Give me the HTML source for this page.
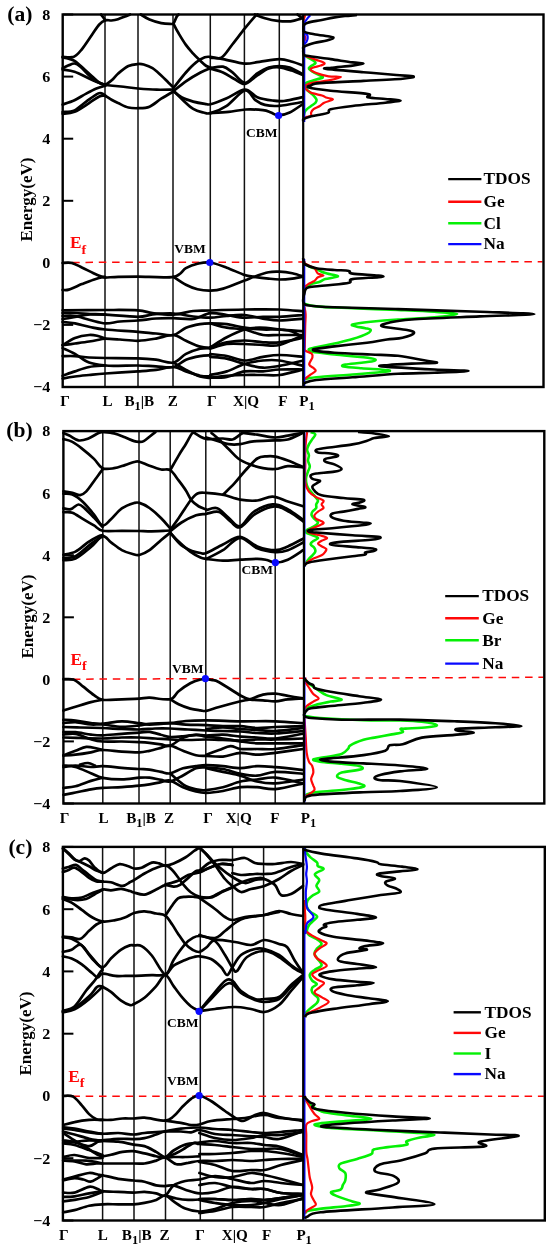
<!DOCTYPE html><html><head><meta charset="utf-8"><style>html,body{margin:0;padding:0;background:#fff;}svg{display:block;}text{font-family:"Liberation Serif","Times New Roman",serif;font-weight:bold;}</style></head><body>
<svg width="550" height="1248" viewBox="0 0 550 1248">
<rect width="550" height="1248" fill="#fff"/>
<g><line x1="105.0" y1="14.5" x2="105.0" y2="387.0" stroke="#111" stroke-width="1.5"/><line x1="138.0" y1="14.5" x2="138.0" y2="387.0" stroke="#111" stroke-width="1.5"/><line x1="173.0" y1="14.5" x2="173.0" y2="387.0" stroke="#111" stroke-width="1.5"/><line x1="210.3" y1="14.5" x2="210.3" y2="387.0" stroke="#111" stroke-width="1.5"/><line x1="244.4" y1="14.5" x2="244.4" y2="387.0" stroke="#111" stroke-width="1.5"/><line x1="279.3" y1="14.5" x2="279.3" y2="387.0" stroke="#111" stroke-width="1.5"/><line x1="72.2" y1="262.4" x2="542.5" y2="261.8" stroke="#ff0808" stroke-width="1.5" stroke-dasharray="7.5 5.8"/><path d="M62.6 56.8 C64.5 56.8 70.6 58.0 73.8 56.8 C77.0 55.5 78.8 53.0 81.8 49.3 C84.8 45.6 89.1 38.8 92.0 34.7 C94.9 30.6 97.1 26.9 99.3 24.5 C101.5 22.1 103.4 21.0 105.4 20.3 C107.4 19.6 109.4 20.7 111.5 20.5 C113.6 20.3 115.8 19.9 118.0 19.2 C120.2 18.5 123.0 17.3 125.0 16.5 C127.0 15.7 129.2 14.8 130.0 14.5" fill="none" stroke="#000" stroke-width="2.7" stroke-linejoin="round" stroke-linecap="round"/><path d="M101.0 14.5 C101.4 15.1 102.8 16.8 103.5 17.8 C104.2 18.8 105.1 19.9 105.4 20.3" fill="none" stroke="#000" stroke-width="2.7" stroke-linejoin="round" stroke-linecap="round"/><path d="M62.6 57.5 C63.6 57.7 66.7 58.1 68.7 58.7 C70.7 59.3 72.1 59.3 74.5 60.9 C76.9 62.5 80.4 65.7 83.3 68.2 C86.2 70.8 89.3 73.8 92.0 76.2 C94.7 78.6 97.1 81.2 99.3 82.7 C101.5 84.2 104.4 84.6 105.4 85.0" fill="none" stroke="#000" stroke-width="2.7" stroke-linejoin="round" stroke-linecap="round"/><path d="M62.6 68.2 C63.6 67.7 66.7 66.1 68.7 65.3 C70.7 64.5 72.5 63.3 74.5 63.5 C76.5 63.7 78.0 64.7 80.4 66.7 C82.8 68.7 86.4 73.1 89.1 75.5 C91.8 77.9 93.7 79.7 96.4 81.3 C99.1 82.9 103.9 84.4 105.4 85.0" fill="none" stroke="#000" stroke-width="2.7" stroke-linejoin="round" stroke-linecap="round"/><path d="M62.6 69.6 C64.6 70.0 70.1 70.3 74.5 71.8 C78.9 73.3 84.6 76.4 89.1 78.4 C93.6 80.4 98.8 82.7 101.5 83.8 C104.2 84.9 104.8 84.8 105.4 85.0" fill="none" stroke="#000" stroke-width="2.7" stroke-linejoin="round" stroke-linecap="round"/><path d="M62.6 104.5 C64.6 103.8 70.6 102.0 74.5 100.2 C78.4 98.4 82.5 95.5 86.2 93.6 C89.9 91.6 93.2 89.8 96.4 88.5 C99.6 87.2 103.9 86.1 105.4 85.6" fill="none" stroke="#000" stroke-width="2.7" stroke-linejoin="round" stroke-linecap="round"/><path d="M62.6 112.0 C64.6 111.7 70.6 112.1 74.5 110.4 C78.4 108.7 82.3 104.4 86.2 101.6 C90.1 98.8 95.1 94.9 97.8 93.6 C100.5 92.3 100.9 93.2 102.2 93.6 C103.5 94.0 104.9 95.4 105.4 95.8" fill="none" stroke="#000" stroke-width="2.7" stroke-linejoin="round" stroke-linecap="round"/><path d="M62.6 113.8 C64.6 113.5 70.1 113.6 74.5 111.8 C78.9 110.0 85.0 105.7 89.1 103.1 C93.2 100.5 96.6 97.6 99.3 96.4 C102.0 95.2 104.4 95.9 105.4 95.8" fill="none" stroke="#000" stroke-width="2.7" stroke-linejoin="round" stroke-linecap="round"/><path d="M105.4 85.0 C108.0 85.2 115.6 85.9 121.0 86.5 C126.4 87.1 132.0 88.0 138.0 88.5 C144.0 89.0 150.9 89.5 156.8 89.7 C162.7 89.9 170.7 89.5 173.5 89.5" fill="none" stroke="#000" stroke-width="2.7" stroke-linejoin="round" stroke-linecap="round"/><path d="M105.4 85.0 C106.5 84.2 109.9 81.9 112.0 80.0 C114.1 78.1 115.5 75.8 118.2 73.5 C120.9 71.2 125.1 67.6 128.4 66.0 C131.7 64.4 135.4 64.2 138.0 64.0 C140.6 63.8 141.3 63.8 143.7 64.5 C146.1 65.2 149.6 66.4 152.5 68.2 C155.4 70.0 158.5 73.1 161.2 75.5 C163.9 77.9 166.4 80.7 168.5 82.7 C170.6 84.7 172.7 86.7 173.5 87.5" fill="none" stroke="#000" stroke-width="2.7" stroke-linejoin="round" stroke-linecap="round"/><path d="M105.4 95.8 C106.5 96.5 109.9 98.8 112.0 100.0 C114.1 101.2 115.5 101.8 118.2 103.1 C120.9 104.3 125.1 106.7 128.4 107.5 C131.7 108.3 134.5 108.3 138.0 108.2 C141.5 108.1 145.6 108.3 149.5 106.7 C153.4 105.1 157.2 101.2 161.2 98.7 C165.2 96.2 171.4 92.7 173.5 91.5" fill="none" stroke="#000" stroke-width="2.7" stroke-linejoin="round" stroke-linecap="round"/><path d="M140.8 14.5 C142.2 15.3 146.1 18.1 149.5 19.5 C152.9 20.9 157.8 22.4 161.2 23.1 C164.6 23.8 167.8 23.8 169.9 23.8 C172.0 23.9 172.4 24.5 173.5 23.4 C174.6 22.3 175.7 18.5 176.5 17.0 C177.3 15.5 178.2 14.9 178.6 14.5" fill="none" stroke="#000" stroke-width="2.7" stroke-linejoin="round" stroke-linecap="round"/><path d="M173.5 23.8 C174.3 25.4 176.5 29.8 178.6 33.3 C180.7 36.8 183.5 41.5 185.9 44.9 C188.3 48.3 190.8 50.9 193.2 53.6 C195.6 56.3 198.3 58.8 200.5 60.9 C202.7 63.0 204.6 64.9 206.3 66.0 C208.0 67.1 209.9 67.2 210.6 67.5" fill="none" stroke="#000" stroke-width="2.7" stroke-linejoin="round" stroke-linecap="round"/><path d="M173.5 88.0 C175.6 85.4 182.1 76.8 185.9 72.5 C189.7 68.2 192.9 64.9 196.1 62.4 C199.2 59.9 202.4 58.2 204.8 57.3 C207.2 56.4 207.7 56.8 210.5 56.8 C213.3 56.8 217.8 59.6 221.4 57.6 C225.0 55.6 228.4 49.4 232.3 44.5 C236.2 39.6 241.4 32.7 245.0 28.2 C248.6 23.7 252.0 19.6 254.1 17.3 C256.2 15.0 257.1 15.0 257.7 14.5" fill="none" stroke="#000" stroke-width="2.7" stroke-linejoin="round" stroke-linecap="round"/><path d="M173.5 91.0 C175.6 89.4 181.4 84.4 185.9 81.3 C190.4 78.2 196.4 74.7 200.5 72.5 C204.6 70.3 208.9 68.9 210.6 68.2" fill="none" stroke="#000" stroke-width="2.7" stroke-linejoin="round" stroke-linecap="round"/><path d="M173.5 91.0 C174.8 92.0 178.2 95.5 181.5 97.3 C184.8 99.1 189.3 100.5 193.2 101.6 C197.1 102.7 201.9 103.4 204.8 103.8 C207.7 104.2 206.8 105.1 210.5 104.2 C214.2 103.3 221.0 100.6 226.7 98.2 C232.4 95.8 239.8 89.8 244.9 89.6 C250.0 89.4 252.7 95.4 257.3 97.2 C261.9 99.0 268.1 99.9 272.5 100.5 C276.9 101.1 278.9 101.5 284.0 101.0 C289.1 100.5 299.9 97.8 303.1 97.2" fill="none" stroke="#000" stroke-width="2.7" stroke-linejoin="round" stroke-linecap="round"/><path d="M173.5 91.0 C175.1 92.5 179.7 97.2 183.0 100.2 C186.3 103.2 189.8 106.9 193.2 108.9 C196.6 111.0 200.5 111.8 203.4 112.5 C206.3 113.2 206.6 114.2 210.5 113.1 C214.4 112.0 221.0 109.6 226.7 105.8 C232.4 102.0 240.1 91.5 244.9 90.5 C249.7 89.5 252.1 97.7 255.4 100.1 C258.7 102.5 260.9 104.0 264.9 104.9 C268.9 105.9 272.8 106.3 279.2 105.8 C285.6 105.3 299.1 102.6 303.1 102.0" fill="none" stroke="#000" stroke-width="2.7" stroke-linejoin="round" stroke-linecap="round"/><path d="M210.5 113.1 C213.5 112.9 222.7 112.4 228.6 111.8 C234.5 111.2 240.1 109.8 245.8 109.5 C251.5 109.2 258.8 109.7 263.0 110.2 C267.2 110.7 268.4 111.6 271.0 112.5 C273.6 113.4 275.2 115.4 278.3 115.4 C281.4 115.4 285.6 114.4 289.7 112.5 C293.8 110.6 300.9 105.3 303.1 103.9" fill="none" stroke="#000" stroke-width="2.7" stroke-linejoin="round" stroke-linecap="round"/><path d="M255.0 14.5 C256.7 15.1 261.2 17.1 265.0 18.2 C268.8 19.3 273.4 20.4 277.7 20.9 C281.9 21.4 286.9 21.6 290.5 21.3 C294.1 21.0 297.4 19.8 299.5 19.1 C301.6 18.4 302.6 17.6 303.2 17.3" fill="none" stroke="#000" stroke-width="2.7" stroke-linejoin="round" stroke-linecap="round"/><path d="M297.5 14.5 L303.2 19.0" fill="none" stroke="#000" stroke-width="2.7" stroke-linejoin="round" stroke-linecap="round"/><path d="M210.5 57.6 C212.6 57.9 217.5 58.1 223.2 59.1 C228.9 60.1 238.5 63.2 244.6 63.6 C250.7 64.0 253.7 62.5 259.5 61.8 C265.3 61.0 274.0 59.1 279.5 59.1 C285.0 59.1 288.4 60.7 292.3 61.8 C296.2 62.9 301.4 64.9 303.2 65.5" fill="none" stroke="#000" stroke-width="2.7" stroke-linejoin="round" stroke-linecap="round"/><path d="M210.5 68.2 C212.6 68.0 219.3 66.0 223.0 66.7 C226.7 67.4 228.8 69.7 232.5 72.4 C236.2 75.1 240.8 82.7 244.9 82.9 C249.0 83.1 253.3 76.0 257.3 73.4 C261.3 70.9 265.1 68.8 268.7 67.6 C272.3 66.4 275.7 66.1 279.2 66.1 C282.7 66.1 285.7 66.2 289.7 67.6 C293.7 69.0 300.9 73.2 303.1 74.3" fill="none" stroke="#000" stroke-width="2.7" stroke-linejoin="round" stroke-linecap="round"/><path d="M210.5 68.6 C212.6 69.2 219.0 70.7 223.0 72.4 C227.0 74.1 230.8 77.1 234.4 79.0 C238.1 80.9 241.1 84.5 244.9 83.9 C248.7 83.3 253.3 77.8 257.3 75.3 C261.3 72.8 265.1 69.9 268.7 68.6 C272.3 67.3 275.4 67.0 279.2 67.3 C283.0 67.6 287.6 69.2 291.6 70.5 C295.6 71.8 301.2 74.5 303.1 75.3" fill="none" stroke="#000" stroke-width="2.7" stroke-linejoin="round" stroke-linecap="round"/><path d="M62.6 263.0 C64.1 263.0 68.4 262.3 71.6 263.0 C74.8 263.7 78.1 265.7 81.8 267.4 C85.5 269.1 90.1 271.6 93.5 273.2 C96.9 274.8 100.2 276.1 102.2 276.8 C104.2 277.5 102.7 277.5 105.4 277.5 C108.1 277.5 112.8 276.9 118.2 276.8 C123.6 276.7 128.8 276.6 138.0 276.6 C147.2 276.6 165.5 278.2 173.5 276.8 C181.5 275.4 181.9 270.3 185.9 268.1 C189.9 265.9 193.4 264.6 197.5 263.7 C201.6 262.8 205.4 261.8 210.3 262.5 C215.2 263.2 221.1 265.6 226.8 267.7 C232.5 269.8 240.1 273.5 244.6 275.0 C249.1 276.5 250.1 276.2 254.1 276.8 C258.1 277.4 264.4 278.2 268.6 278.6 C272.8 279.1 275.6 279.5 279.5 279.5 C283.4 279.5 288.4 279.1 292.3 278.6 C296.2 278.1 301.4 276.9 303.2 276.5" fill="none" stroke="#000" stroke-width="2.7" stroke-linejoin="round" stroke-linecap="round"/><path d="M62.6 289.9 C63.6 289.8 65.5 290.6 68.7 289.6 C71.9 288.6 77.7 285.8 81.8 284.1 C85.9 282.5 89.9 280.9 93.5 279.7 C97.1 278.5 101.6 277.3 103.6 276.9 C105.6 276.5 105.1 277.4 105.4 277.5" fill="none" stroke="#000" stroke-width="2.7" stroke-linejoin="round" stroke-linecap="round"/><path d="M173.5 276.8 C175.6 278.1 181.9 282.7 185.9 284.8 C189.9 286.9 193.4 288.2 197.5 289.2 C201.6 290.2 206.0 290.7 210.3 290.6 C214.6 290.5 217.5 290.3 223.2 288.6 C228.9 286.9 239.4 282.5 244.6 280.5 C249.8 278.5 250.1 278.2 254.1 276.8 C258.1 275.4 264.4 273.2 268.6 272.3 C272.8 271.4 275.6 271.6 279.5 271.7 C283.4 271.8 288.4 272.4 292.3 273.2 C296.2 274.0 301.4 275.9 303.2 276.5" fill="none" stroke="#000" stroke-width="2.7" stroke-linejoin="round" stroke-linecap="round"/><path d="M62.6 310.3 C69.7 310.2 92.8 310.0 105.4 310.0 C118.0 310.0 130.2 309.8 138.0 310.3 C145.8 310.8 146.6 312.5 152.5 313.2 C158.4 313.9 166.7 315.0 173.5 314.6 C180.3 314.2 187.1 311.7 193.2 311.0 C199.3 310.3 201.7 310.8 210.3 310.5 C218.9 310.2 233.1 309.7 244.6 309.5 C256.1 309.3 269.7 309.2 279.5 309.5 C289.3 309.8 299.2 311.1 303.2 311.4" fill="none" stroke="#000" stroke-width="2.7" stroke-linejoin="round" stroke-linecap="round"/><path d="M62.6 313.0 C64.7 313.0 70.4 312.8 75.0 313.0 C79.6 313.2 84.9 313.7 90.0 314.0 C95.1 314.3 97.4 314.1 105.4 314.6 C113.4 315.1 130.2 316.8 138.0 316.8 C145.8 316.8 146.6 315.1 152.5 314.5 C158.4 313.9 166.7 313.2 173.5 313.5 C180.3 313.8 187.1 315.8 193.2 316.5 C199.3 317.2 204.7 317.8 210.3 317.7 C215.9 317.6 221.1 316.3 226.8 315.9 C232.5 315.4 238.6 314.6 244.6 315.0 C250.6 315.4 257.2 317.7 263.0 318.6 C268.8 319.5 272.8 320.5 279.5 320.5 C286.2 320.5 299.2 318.9 303.2 318.6" fill="none" stroke="#000" stroke-width="2.7" stroke-linejoin="round" stroke-linecap="round"/><path d="M62.6 316.0 C64.7 316.0 70.4 315.3 75.0 316.0 C79.6 316.7 84.9 318.8 90.0 320.0 C95.1 321.2 100.4 323.1 105.4 323.4 C110.4 323.6 114.6 322.0 120.0 321.5 C125.4 321.0 132.0 321.0 138.0 320.5 C144.0 320.0 150.1 318.9 156.0 318.5 C161.9 318.1 167.3 318.1 173.5 318.2 C179.7 318.3 187.1 319.8 193.2 319.0 C199.3 318.2 204.7 313.9 210.3 313.2 C215.9 312.5 221.1 314.2 226.8 315.0 C232.5 315.8 238.6 317.4 244.6 317.7 C250.6 318.0 257.2 316.9 263.0 316.8 C268.8 316.7 272.8 317.1 279.5 316.8 C286.2 316.5 299.2 315.3 303.2 315.0" fill="none" stroke="#000" stroke-width="2.7" stroke-linejoin="round" stroke-linecap="round"/><path d="M62.6 319.0 C64.7 318.7 70.4 317.8 75.0 317.0 C79.6 316.2 84.9 314.9 90.0 314.5 C95.1 314.1 102.8 314.6 105.4 314.6" fill="none" stroke="#000" stroke-width="2.7" stroke-linejoin="round" stroke-linecap="round"/><path d="M62.6 322.0 C64.7 322.2 70.4 322.6 75.0 323.4 C79.6 324.2 84.9 326.0 90.0 327.0 C95.1 328.0 97.4 328.7 105.4 329.5 C113.4 330.3 129.6 331.1 138.0 331.8 C146.4 332.5 150.1 333.0 156.0 333.5 C161.9 334.0 168.5 336.0 173.5 335.0 C178.5 334.0 181.6 329.5 186.0 327.7 C190.4 325.9 195.9 324.8 200.0 324.1 C204.1 323.4 205.8 323.4 210.3 323.4 C214.8 323.4 221.1 323.4 226.8 324.1 C232.5 324.8 238.6 326.8 244.6 327.7 C250.6 328.6 257.2 329.2 263.0 329.5 C268.8 329.8 272.8 329.2 279.5 329.5 C286.2 329.8 299.2 331.1 303.2 331.4" fill="none" stroke="#000" stroke-width="2.7" stroke-linejoin="round" stroke-linecap="round"/><path d="M210.3 323.4 C213.1 324.1 221.1 326.7 226.8 327.7 C232.5 328.7 238.6 328.3 244.6 329.5 C250.6 330.7 257.2 334.1 263.0 335.0 C268.8 335.9 272.8 335.0 279.5 335.0 C286.2 335.0 299.2 335.0 303.2 335.0" fill="none" stroke="#000" stroke-width="2.7" stroke-linejoin="round" stroke-linecap="round"/><path d="M62.6 345.2 C64.7 344.0 70.6 339.7 75.0 338.0 C79.4 336.3 85.3 335.3 89.1 335.0 C92.9 334.7 95.3 335.4 98.0 336.0 C100.7 336.6 104.2 338.2 105.4 338.6" fill="none" stroke="#000" stroke-width="2.7" stroke-linejoin="round" stroke-linecap="round"/><path d="M62.6 345.2 C64.7 344.9 70.6 344.1 75.0 343.5 C79.4 342.9 84.9 342.2 89.1 341.5 C93.3 340.8 97.3 340.0 100.0 339.5 C102.7 339.0 102.1 338.6 105.4 338.6 C108.7 338.6 114.6 339.1 120.0 339.5 C125.4 339.9 132.0 340.9 138.0 340.8 C144.0 340.7 150.1 339.6 156.0 338.6 C161.9 337.6 168.5 334.6 173.5 335.0 C178.5 335.4 181.6 338.9 186.0 340.8 C190.4 342.7 195.9 345.4 200.0 346.6 C204.1 347.8 208.6 347.9 210.3 348.1" fill="none" stroke="#000" stroke-width="2.7" stroke-linejoin="round" stroke-linecap="round"/><path d="M62.6 348.1 C64.7 349.1 70.6 351.5 75.0 353.9 C79.4 356.3 84.0 360.7 89.1 362.6 C94.2 364.5 100.6 365.0 105.4 365.5 C110.2 366.0 112.8 365.8 118.2 365.8 C123.6 365.8 131.7 365.4 138.0 365.5 C144.3 365.6 150.1 366.1 156.0 366.3 C161.9 366.6 168.5 368.1 173.5 367.0 C178.5 365.9 181.6 361.5 186.0 359.7 C190.4 357.9 195.9 356.8 200.0 356.1 C204.1 355.4 208.6 355.5 210.3 355.4" fill="none" stroke="#000" stroke-width="2.7" stroke-linejoin="round" stroke-linecap="round"/><path d="M62.6 356.1 C64.7 356.1 70.6 355.9 75.0 356.1 C79.4 356.3 84.0 357.2 89.1 357.5 C94.2 357.8 97.2 357.9 105.4 358.0 C113.6 358.1 129.6 358.0 138.0 358.3 C146.4 358.6 150.1 359.0 156.0 359.7 C161.9 360.4 168.5 363.6 173.5 362.6 C178.5 361.6 181.6 356.2 186.0 353.9 C190.4 351.6 195.9 349.8 200.0 348.8 C204.1 347.8 208.6 348.2 210.3 348.1" fill="none" stroke="#000" stroke-width="2.7" stroke-linejoin="round" stroke-linecap="round"/><path d="M62.6 375.7 C64.7 375.0 70.6 372.8 75.0 371.4 C79.4 369.9 84.0 368.0 89.1 367.0 C94.2 366.0 102.7 365.8 105.4 365.5" fill="none" stroke="#000" stroke-width="2.7" stroke-linejoin="round" stroke-linecap="round"/><path d="M62.6 378.6 C64.7 378.2 70.6 377.1 75.0 376.5 C79.4 375.9 84.0 375.5 89.1 375.0 C94.2 374.5 97.2 374.1 105.4 373.5 C113.6 372.9 129.6 372.0 138.0 371.4 C146.4 370.8 150.1 370.6 156.0 369.9 C161.9 369.2 168.5 366.8 173.5 367.0 C178.5 367.2 181.6 369.9 186.0 371.4 C190.4 372.8 195.9 374.8 200.0 375.7 C204.1 376.6 208.6 376.4 210.3 376.5" fill="none" stroke="#000" stroke-width="2.7" stroke-linejoin="round" stroke-linecap="round"/><path d="M173.5 362.6 C175.6 363.8 181.6 367.6 186.0 369.9 C190.4 372.2 195.9 375.2 200.0 376.5 C204.1 377.8 208.6 377.7 210.3 377.9" fill="none" stroke="#000" stroke-width="2.7" stroke-linejoin="round" stroke-linecap="round"/><path d="M210.3 347.3 C213.1 345.6 221.1 340.3 226.8 337.3 C232.5 334.3 239.2 331.1 244.6 329.5 C250.0 327.9 253.7 327.7 259.5 327.7 C265.3 327.7 274.1 328.9 279.5 329.5 C284.9 330.1 288.1 330.0 292.0 331.4 C295.9 332.8 301.3 336.6 303.2 337.7" fill="none" stroke="#000" stroke-width="2.7" stroke-linejoin="round" stroke-linecap="round"/><path d="M210.3 347.3 C213.1 346.5 221.1 343.4 226.8 342.3 C232.5 341.2 238.6 340.5 244.6 340.5 C250.6 340.5 257.2 342.0 263.0 342.3 C268.8 342.6 272.8 343.1 279.5 342.3 C286.2 341.5 299.2 338.5 303.2 337.7" fill="none" stroke="#000" stroke-width="2.7" stroke-linejoin="round" stroke-linecap="round"/><path d="M210.3 348.6 C213.1 347.8 221.1 344.8 226.8 344.0 C232.5 343.2 238.6 343.8 244.6 344.0 C250.6 344.2 257.2 344.8 263.0 345.0 C268.8 345.2 272.8 346.7 279.5 345.0 C286.2 343.3 299.2 336.7 303.2 335.0" fill="none" stroke="#000" stroke-width="2.7" stroke-linejoin="round" stroke-linecap="round"/><path d="M210.3 354.0 C213.1 354.3 221.1 354.9 226.8 356.0 C232.5 357.1 238.6 360.4 244.6 360.5 C250.6 360.6 257.2 357.7 263.0 356.8 C268.8 355.9 272.8 355.0 279.5 355.0 C286.2 355.0 299.2 356.5 303.2 356.8" fill="none" stroke="#000" stroke-width="2.7" stroke-linejoin="round" stroke-linecap="round"/><path d="M210.3 356.8 C213.1 357.1 221.1 357.4 226.8 358.6 C232.5 359.8 238.6 362.5 244.6 364.0 C250.6 365.5 257.2 367.4 263.0 367.7 C268.8 368.0 272.8 367.1 279.5 365.9 C286.2 364.7 299.2 361.4 303.2 360.5" fill="none" stroke="#000" stroke-width="2.7" stroke-linejoin="round" stroke-linecap="round"/><path d="M210.3 375.0 C213.1 374.4 221.1 373.2 226.8 371.4 C232.5 369.6 238.6 365.8 244.6 364.0 C250.6 362.2 257.2 361.1 263.0 360.5 C268.8 359.9 272.8 359.6 279.5 360.5 C286.2 361.4 299.2 365.0 303.2 365.9" fill="none" stroke="#000" stroke-width="2.7" stroke-linejoin="round" stroke-linecap="round"/><path d="M210.3 377.7 C213.1 377.6 221.1 377.9 226.8 376.8 C232.5 375.8 238.6 372.3 244.6 371.4 C250.6 370.5 257.2 371.7 263.0 371.4 C268.8 371.1 272.8 369.8 279.5 369.5 C286.2 369.2 299.2 369.5 303.2 369.5" fill="none" stroke="#000" stroke-width="2.7" stroke-linejoin="round" stroke-linecap="round"/><path d="M210.3 377.7 C213.1 377.4 221.1 376.3 226.8 375.9 C232.5 375.4 238.6 375.1 244.6 375.0 C250.6 374.9 257.2 375.0 263.0 375.0 C268.8 375.0 272.8 375.9 279.5 375.0 C286.2 374.1 299.2 370.4 303.2 369.5" fill="none" stroke="#000" stroke-width="2.7" stroke-linejoin="round" stroke-linecap="round"/><path d="M303.2 55.0 C303.5 55.1 303.4 55.0 304.9 55.8 C306.4 56.6 310.5 58.7 312.3 59.9 C314.1 61.1 315.8 62.1 315.5 63.2 C315.2 64.3 311.7 65.5 310.6 66.5 C309.5 67.5 308.3 67.8 309.0 68.9 C309.7 70.0 312.4 71.6 314.7 73.0 C317.0 74.4 322.6 76.0 322.9 77.1 C323.2 78.2 319.1 78.5 316.4 79.5 C313.7 80.5 308.4 82.0 306.5 82.8 C304.6 83.6 304.9 83.4 304.9 84.5 C304.9 85.6 305.3 87.8 306.5 89.4 C307.7 91.0 310.6 92.6 312.3 94.3 C314.0 96.0 316.0 98.1 316.5 99.5 C317.0 100.9 316.4 101.6 315.5 102.7 C314.6 103.8 312.6 104.9 311.1 106.0 C309.6 107.1 307.8 108.2 306.7 109.3 C305.6 110.4 305.0 111.3 304.5 112.6 C304.0 113.9 303.7 116.2 303.5 116.9" fill="none" stroke="#05f005" stroke-width="2.6" stroke-linejoin="round"/><path d="M303.5 262.7 C304.4 263.3 306.8 265.3 308.9 266.4 C311.0 267.5 314.1 268.2 316.2 269.1 C318.3 270.0 319.8 271.1 321.6 271.8 C323.4 272.6 324.4 272.8 327.1 273.6 C329.8 274.4 338.3 275.5 338.0 276.4 C337.7 277.3 328.3 278.2 325.3 279.1 C322.3 280.0 321.9 281.1 319.8 281.8 C317.7 282.6 314.6 282.8 312.5 283.6 C310.4 284.4 308.5 285.6 307.1 286.4 C305.8 287.2 304.8 287.9 304.4 288.2" fill="none" stroke="#05f005" stroke-width="2.6" stroke-linejoin="round"/><path d="M303.5 303.5 C305.6 304.0 308.0 305.6 316.2 306.4 C324.4 307.2 338.9 307.6 352.5 308.2 C366.1 308.8 384.4 309.4 398.0 310.0 C411.6 310.6 424.5 311.1 434.4 311.8 C444.2 312.5 457.1 313.2 457.1 314.1 C457.1 315.0 444.2 316.4 434.4 317.3 C424.5 318.2 408.6 318.8 398.0 319.5 C387.4 320.2 378.3 321.0 370.7 321.8 C363.1 322.6 354.9 323.7 352.5 324.5 C350.1 325.3 354.1 325.8 356.2 326.4 C358.3 327.0 362.9 327.6 365.3 328.2 C367.7 328.8 370.4 329.1 370.7 330.0 C371.0 330.9 370.1 332.1 367.1 333.6 C364.1 335.1 357.9 337.4 352.5 339.1 C347.1 340.8 340.4 342.2 334.4 343.6 C328.3 345.0 320.4 346.4 316.2 347.3 C311.9 348.2 309.5 348.4 308.9 349.1 C308.3 349.9 308.2 350.9 312.5 351.8 C316.8 352.7 324.7 353.4 334.4 354.5 C344.1 355.6 364.0 357.1 370.7 358.2 C377.4 359.3 375.9 360.1 374.4 360.9 C372.9 361.6 366.5 362.1 361.6 362.7 C356.8 363.3 348.3 363.9 345.3 364.5 C342.3 365.1 340.8 365.8 343.5 366.4 C346.2 367.0 354.3 367.6 361.6 368.2 C368.9 368.8 383.2 369.4 387.1 370.0 C391.1 370.6 391.1 371.1 385.3 371.8 C379.5 372.6 364.0 373.6 352.5 374.5 C341.0 375.4 324.1 376.5 316.2 377.3 C308.3 378.1 307.4 378.5 305.3 379.1 C303.2 379.7 303.8 380.6 303.5 380.9" fill="none" stroke="#05f005" stroke-width="2.6" stroke-linejoin="round"/><path d="M303.2 54.7 C303.5 54.9 302.7 54.9 304.9 55.8 C307.1 56.7 313.1 58.7 316.4 59.9 C319.7 61.1 323.8 62.2 324.5 63.2 C325.2 64.2 322.8 64.6 320.5 65.6 C318.2 66.5 311.3 67.7 310.6 68.9 C309.9 70.1 313.4 71.8 316.4 73.0 C319.4 74.2 324.5 75.6 328.6 76.3 C332.7 77.0 340.9 76.4 340.9 77.1 C340.9 77.8 333.4 79.5 328.6 80.4 C323.8 81.4 316.1 82.0 312.3 82.8 C308.5 83.6 306.9 84.5 305.7 85.3 C304.5 86.1 304.1 86.5 304.9 87.7 C305.7 88.9 307.8 91.3 310.6 92.6 C313.5 93.9 319.4 94.7 322.0 95.5 C324.6 96.3 324.2 96.8 326.0 97.5 C327.8 98.2 333.2 98.6 332.9 99.5 C332.6 100.4 326.4 101.6 324.2 102.7 C322.0 103.8 321.6 104.9 319.8 106.0 C318.0 107.1 314.8 108.2 313.3 109.3 C311.9 110.4 311.5 111.5 311.1 112.6 C310.7 113.7 311.8 115.1 311.1 115.8 C310.4 116.5 308.0 116.5 306.7 116.9 C305.4 117.3 303.8 117.8 303.2 118.0" fill="none" stroke="#ff0808" stroke-width="2.2" stroke-linejoin="round"/><path d="M303.3 34.2 C303.6 34.6 304.9 35.9 305.2 36.7 C305.5 37.6 305.5 38.4 305.2 39.3 C304.9 40.1 303.6 41.4 303.3 41.8" fill="none" stroke="#ff0808" stroke-width="2.2" stroke-linejoin="round"/><path d="M303.3 22.7 C303.4 22.1 303.6 20.1 303.9 18.9 C304.2 17.6 305.0 15.8 305.2 15.2" fill="none" stroke="#ff0808" stroke-width="2.2" stroke-linejoin="round"/><path d="M303.5 262.7 C304.4 263.2 307.1 264.6 308.9 265.5 C310.7 266.4 313.2 267.3 314.4 268.2 C315.6 269.1 315.6 270.0 316.2 270.9 C316.8 271.8 316.8 272.8 318.0 273.6 C319.2 274.4 323.5 274.9 323.5 275.5 C323.5 276.1 319.5 276.4 318.0 277.3 C316.5 278.2 315.9 279.8 314.4 280.9 C312.9 281.9 310.4 282.7 308.9 283.6 C307.4 284.5 306.1 285.6 305.3 286.4 C304.6 287.2 304.5 287.9 304.4 288.2" fill="none" stroke="#ff0808" stroke-width="2.2" stroke-linejoin="round"/><path d="M303.8 304.0 C304.1 305.7 305.4 310.3 305.6 314.0 C305.8 317.7 305.3 320.7 305.2 326.0 C305.1 331.3 304.8 341.9 304.8 346.0 C304.8 350.1 304.1 349.2 305.2 350.5 C306.3 351.8 310.4 352.3 311.6 353.5 C312.8 354.7 312.8 355.7 312.4 357.5 C312.0 359.3 308.9 362.7 309.2 364.5 C309.5 366.3 312.9 367.4 314.0 368.5 C315.1 369.6 316.3 369.9 315.6 371.0 C314.9 372.1 311.8 373.7 310.0 375.0 C308.2 376.3 305.8 378.0 304.8 379.0 C303.8 380.0 304.0 380.7 303.8 381.0" fill="none" stroke="#ff0808" stroke-width="2.2" stroke-linejoin="round"/><path d="M304.2 122.0 L304.2 25.0" fill="none" stroke="#0808ff" stroke-width="2.2" stroke-linejoin="round"/><path d="M304.2 386.0 L304.2 259.0" fill="none" stroke="#0808ff" stroke-width="2.2" stroke-linejoin="round"/><path d="M303.3 25.3 C303.5 24.9 303.9 23.8 304.5 22.7 C305.1 21.6 306.1 20.1 307.1 18.9 C308.1 17.6 309.8 15.8 310.3 15.2" fill="none" stroke="#0808ff" stroke-width="2.2" stroke-linejoin="round"/><path d="M303.3 32.3 C303.9 32.7 306.4 33.8 307.1 34.8 C307.8 35.8 307.8 36.8 307.7 38.0 C307.6 39.2 307.2 40.6 306.5 41.8 C305.8 43.0 303.8 44.5 303.3 45.0" fill="none" stroke="#0808ff" stroke-width="2.2" stroke-linejoin="round"/><path d="M357.0 15.0 C355.0 15.2 349.0 15.6 345.0 16.0 C341.0 16.4 337.3 16.9 333.2 17.6 C329.1 18.3 324.8 19.4 320.5 20.2 C316.2 21.0 310.5 21.8 307.7 22.7 C304.9 23.6 304.6 24.3 303.9 25.3 C303.2 26.3 303.3 27.4 303.4 28.5 C303.5 29.6 302.7 30.9 304.5 31.8 C306.3 32.8 309.8 33.4 314.1 34.2 C318.5 35.0 327.4 36.1 330.6 36.7 C333.8 37.3 333.8 37.4 333.2 38.0 C332.6 38.6 330.0 39.6 326.8 40.5 C323.6 41.4 317.9 42.0 314.1 43.1 C310.3 44.2 305.7 45.8 303.9 46.9 C302.1 48.0 303.4 48.4 303.3 49.5 C303.2 50.6 302.9 52.6 303.5 53.6 C304.1 54.6 302.2 54.9 306.7 55.8 C311.2 56.7 323.1 58.0 330.7 59.1 C338.3 60.2 347.0 61.7 352.5 62.4 C358.0 63.1 363.5 63.0 363.5 63.5 C363.5 64.0 358.0 64.9 352.5 65.6 C347.0 66.3 335.1 67.2 330.7 67.8 C326.3 68.3 320.9 68.2 326.4 68.9 C331.9 69.6 351.9 71.2 363.5 72.2 C375.1 73.2 387.8 74.3 396.2 75.0 C404.6 75.7 412.5 75.9 413.6 76.5 C414.7 77.1 411.1 78.0 402.7 78.7 C394.3 79.4 377.3 80.2 363.5 80.9 C349.7 81.6 328.5 82.4 319.8 83.1 C311.1 83.8 312.9 84.6 311.1 85.3 C309.3 86.0 305.6 86.6 308.9 87.5 C312.2 88.4 320.9 89.6 330.7 90.7 C340.5 91.8 361.6 92.9 367.8 94.0 C374.0 95.1 364.9 96.5 367.8 97.3 C370.7 98.1 379.8 98.5 385.3 99.0 C390.8 99.5 400.6 100.0 400.6 100.6 C400.6 101.2 393.3 101.8 385.3 102.7 C377.3 103.6 361.6 104.9 352.5 106.0 C343.4 107.1 334.7 108.2 330.7 109.3 C326.7 110.4 330.3 111.7 328.5 112.6 C326.7 113.5 323.1 114.0 319.8 114.7 C316.5 115.4 311.6 116.2 308.9 116.9 C306.2 117.6 304.4 118.4 303.5 119.1 C302.6 119.8 303.2 120.9 303.2 121.3" fill="none" stroke="#000" stroke-width="2.6" stroke-linejoin="round"/><path d="M303.2 258.0 C303.2 258.5 303.1 259.8 303.5 260.9 C303.9 262.0 303.2 263.3 305.3 264.5 C307.4 265.7 311.4 267.3 316.2 268.2 C321.0 269.1 328.9 269.6 334.4 270.0 C339.8 270.4 345.9 270.3 348.9 270.9 C351.9 271.5 346.7 272.7 352.5 273.6 C358.3 274.5 383.5 275.5 383.5 276.4 C383.5 277.3 358.3 278.1 352.5 279.1 C346.7 280.2 353.4 281.6 348.9 282.7 C344.4 283.8 332.0 284.7 325.3 285.5 C318.6 286.3 312.2 286.6 308.9 287.3 C305.6 288.1 306.1 288.9 305.3 290.0 C304.6 291.1 304.7 292.4 304.4 293.6 C304.1 294.8 303.6 295.8 303.5 297.3 C303.4 298.8 302.6 301.3 303.5 302.7 C304.4 304.1 303.9 304.7 309.0 305.5 C314.1 306.3 319.6 306.7 334.4 307.3 C349.2 307.9 373.8 308.4 398.0 309.1 C422.2 309.9 457.1 311.0 479.8 311.8 C502.5 312.6 534.4 313.3 534.4 314.1 C534.4 314.9 500.3 315.5 479.8 316.4 C459.3 317.3 426.8 318.4 411.6 319.5 C396.5 320.6 393.8 321.6 388.9 322.7 C384.0 323.8 379.1 325.2 382.1 326.4 C385.1 327.6 401.8 328.9 407.1 330.0 C412.4 331.1 414.7 331.9 413.9 333.2 C413.1 334.5 407.0 336.6 402.5 337.7 C398.0 338.8 392.9 338.7 387.0 339.5 C381.1 340.3 375.8 341.6 367.0 342.7 C358.2 343.8 343.2 345.3 334.4 346.4 C325.6 347.5 317.4 348.4 314.4 349.1 C311.4 349.9 312.9 350.3 316.2 350.9 C319.5 351.5 325.3 352.1 334.4 352.7 C343.5 353.3 360.1 354.0 370.7 354.5 C381.3 355.0 388.9 354.8 398.0 355.8 C407.1 356.8 418.9 359.4 425.3 360.5 C431.7 361.6 438.9 362.2 436.6 362.7 C434.3 363.2 419.6 363.2 411.6 363.6 C403.7 364.0 393.8 364.5 388.9 365.0 C384.0 365.5 374.5 365.6 382.1 366.4 C389.7 367.1 420.0 368.8 434.4 369.5 C448.8 370.2 468.5 370.4 468.5 370.9 C468.5 371.4 446.1 372.2 434.4 372.7 C422.6 373.2 411.6 373.0 398.0 373.8 C384.4 374.6 366.1 376.3 352.5 377.3 C338.9 378.3 324.1 379.1 316.2 380.0 C308.3 380.9 307.4 381.9 305.3 382.7 C303.2 383.4 303.8 384.2 303.5 384.5" fill="none" stroke="#000" stroke-width="2.6" stroke-linejoin="round"/><line x1="62.7" y1="387.0" x2="73.2" y2="387.0" stroke="#000" stroke-width="2"/><text transform="translate(50.4 392.3) scale(1.040 1)" font-size="15.5" text-anchor="end">−4</text><line x1="62.7" y1="324.9" x2="73.2" y2="324.9" stroke="#000" stroke-width="2"/><text transform="translate(50.4 330.2) scale(1.040 1)" font-size="15.5" text-anchor="end">−2</text><line x1="62.7" y1="262.8" x2="73.2" y2="262.8" stroke="#000" stroke-width="2"/><text transform="translate(50.4 268.1) scale(1.040 1)" font-size="15.5" text-anchor="end">0</text><line x1="62.7" y1="200.8" x2="73.2" y2="200.8" stroke="#000" stroke-width="2"/><text transform="translate(50.4 206.1) scale(1.040 1)" font-size="15.5" text-anchor="end">2</text><line x1="62.7" y1="138.7" x2="73.2" y2="138.7" stroke="#000" stroke-width="2"/><text transform="translate(50.4 144.0) scale(1.040 1)" font-size="15.5" text-anchor="end">4</text><line x1="62.7" y1="76.6" x2="73.2" y2="76.6" stroke="#000" stroke-width="2"/><text transform="translate(50.4 81.9) scale(1.040 1)" font-size="15.5" text-anchor="end">6</text><line x1="62.7" y1="14.5" x2="73.2" y2="14.5" stroke="#000" stroke-width="2"/><text transform="translate(50.4 19.8) scale(1.040 1)" font-size="15.5" text-anchor="end">8</text><rect x="62.7" y="14.5" width="480.8" height="372.5" fill="none" stroke="#000" stroke-width="2.4"/><line x1="303.2" y1="14.5" x2="303.2" y2="387.0" stroke="#000" stroke-width="2.2"/><text transform="translate(7.2 21.3) scale(1.080 1)" font-size="20">(a)</text><text x="0" y="0" font-size="17" text-anchor="middle" transform="translate(32.0 199.5) scale(0.93 1) rotate(-90)">Energy(eV)</text><text transform="translate(65.1 406.2) scale(1.080 1)" font-size="14" text-anchor="middle">Γ</text><text transform="translate(107.6 406.2) scale(1.080 1)" font-size="14" text-anchor="middle">L</text><text transform="translate(139.3 406.2) scale(1.080 1)" font-size="14" text-anchor="middle">B<tspan font-size="11.5" dy="4">1</tspan><tspan dy="-4">|B</tspan></text><text transform="translate(172.7 406.2) scale(1.080 1)" font-size="14" text-anchor="middle">Z</text><text transform="translate(211.9 406.2) scale(1.080 1)" font-size="14" text-anchor="middle">Γ</text><text transform="translate(246.0 406.2) scale(1.080 1)" font-size="14" text-anchor="middle">X|Q</text><text transform="translate(282.8 406.2) scale(1.080 1)" font-size="14" text-anchor="middle">F</text><text transform="translate(307.0 406.2) scale(1.080 1)" font-size="14" text-anchor="middle">P<tspan font-size="11.5" dy="4">1</tspan></text><text transform="translate(70.0 248.1) scale(1.080 1)" font-size="16" fill="#ff0808">E<tspan font-size="13" dy="5.5">f</tspan></text><line x1="448.2" y1="179.1" x2="481.4" y2="179.1" stroke="#000" stroke-width="2.4"/><text transform="translate(483.6 184.4) scale(1.080 1)" font-size="16">TDOS</text><line x1="448.2" y1="201.8" x2="481.4" y2="201.8" stroke="#ff0808" stroke-width="2.4"/><text transform="translate(483.6 207.1) scale(1.080 1)" font-size="16">Ge</text><line x1="448.2" y1="223.2" x2="481.4" y2="223.2" stroke="#05f005" stroke-width="2.4"/><text transform="translate(483.6 228.5) scale(1.080 1)" font-size="16">Cl</text><line x1="448.2" y1="244.1" x2="481.4" y2="244.1" stroke="#0808ff" stroke-width="2.4"/><text transform="translate(483.6 249.4) scale(1.080 1)" font-size="16">Na</text><circle cx="209.8" cy="262.5" r="3.6" fill="#0a0aff"/><text transform="translate(174.2 253.3) scale(1.000 1)" font-size="13.5">VBM</text><circle cx="278.6" cy="115.5" r="3.6" fill="#0a0aff"/><text transform="translate(246.0 136.8) scale(1.000 1)" font-size="13.5">CBM</text></g>
<g><line x1="102.8" y1="431.1" x2="102.8" y2="803.5" stroke="#111" stroke-width="1.5"/><line x1="139.0" y1="431.1" x2="139.0" y2="803.5" stroke="#111" stroke-width="1.5"/><line x1="170.2" y1="431.1" x2="170.2" y2="803.5" stroke="#111" stroke-width="1.5"/><line x1="205.8" y1="431.1" x2="205.8" y2="803.5" stroke="#111" stroke-width="1.5"/><line x1="240.0" y1="431.1" x2="240.0" y2="803.5" stroke="#111" stroke-width="1.5"/><line x1="275.2" y1="431.1" x2="275.2" y2="803.5" stroke="#111" stroke-width="1.5"/><line x1="72.9" y1="679.2" x2="543.3" y2="677.3" stroke="#ff0808" stroke-width="1.5" stroke-dasharray="7.5 5.8"/><path d="M63.4 433.0 C64.4 433.4 66.8 434.3 69.3 435.5 C71.8 436.7 75.4 439.8 78.5 440.4 C81.6 440.9 84.5 440.0 87.8 438.8 C91.1 437.6 96.1 434.1 98.6 433.0 C101.0 431.9 101.8 432.2 102.5 432.0" fill="none" stroke="#000" stroke-width="2.7" stroke-linejoin="round" stroke-linecap="round"/><path d="M63.4 439.1 C64.9 439.6 69.1 440.1 72.4 441.9 C75.7 443.6 79.6 446.8 83.2 449.6 C86.8 452.4 90.8 455.8 94.0 458.9 C97.2 462.0 99.2 466.6 102.5 468.2 C105.8 469.8 110.4 468.7 114.1 468.2 C117.8 467.7 121.6 466.1 124.9 465.1 C128.2 464.1 131.8 462.6 134.2 462.0 C136.6 461.4 136.8 461.1 139.4 461.7 C142.0 462.3 145.9 464.5 149.5 465.8 C153.1 467.1 157.8 468.8 161.2 469.5 C164.6 470.2 167.3 468.4 170.2 470.2 C173.1 472.0 176.0 477.0 178.6 480.4 C181.2 483.8 183.7 487.1 185.9 490.5 C188.1 493.9 189.5 498.0 191.7 500.7 C193.9 503.4 196.6 505.0 199.0 506.5 C201.4 508.0 205.1 509.0 206.3 509.5" fill="none" stroke="#000" stroke-width="2.7" stroke-linejoin="round" stroke-linecap="round"/><path d="M63.4 491.4 C64.9 491.6 69.6 492.3 72.4 492.9 C75.2 493.5 77.8 495.4 80.1 495.2 C82.4 494.9 83.7 494.1 86.3 491.4 C88.9 488.7 92.8 482.6 95.5 479.0 C98.2 475.4 101.3 471.2 102.5 469.7" fill="none" stroke="#000" stroke-width="2.7" stroke-linejoin="round" stroke-linecap="round"/><path d="M63.4 493.7 C64.9 493.8 69.1 493.1 72.4 494.5 C75.7 495.9 79.6 498.8 83.2 502.2 C86.8 505.6 90.8 510.7 94.0 514.6 C97.2 518.5 99.7 524.6 102.5 525.4 C105.3 526.2 107.8 522.0 111.0 519.2 C114.2 516.4 117.9 511.1 121.8 508.4 C125.7 505.7 131.3 503.9 134.2 503.0 C137.1 502.1 136.8 502.1 139.4 502.9 C142.0 503.7 145.9 505.4 149.5 508.0 C153.1 510.6 157.8 514.8 161.2 518.2 C164.6 521.6 168.7 526.7 170.2 528.4" fill="none" stroke="#000" stroke-width="2.7" stroke-linejoin="round" stroke-linecap="round"/><path d="M63.4 508.4 C64.6 508.5 68.3 509.8 70.8 509.1 C73.3 508.5 76.2 504.6 78.5 504.5 C80.8 504.4 82.1 506.2 84.7 508.4 C87.3 510.6 91.0 514.5 94.0 517.6 C97.0 520.7 101.1 525.4 102.5 526.9" fill="none" stroke="#000" stroke-width="2.7" stroke-linejoin="round" stroke-linecap="round"/><path d="M63.4 512.2 C64.9 512.3 69.1 511.5 72.4 512.7 C75.7 513.9 79.6 517.1 83.2 519.2 C86.8 521.3 90.8 523.5 94.0 525.4 C97.2 527.3 97.9 529.9 102.5 530.8 C107.1 531.7 115.6 530.8 121.8 530.8 C128.0 530.8 134.8 530.9 139.4 531.0 C144.0 531.1 144.4 531.4 149.5 531.3 C154.6 531.2 166.8 530.6 170.2 530.5" fill="none" stroke="#000" stroke-width="2.7" stroke-linejoin="round" stroke-linecap="round"/><path d="M63.4 554.7 C65.4 554.2 71.4 553.7 75.5 551.6 C79.6 549.5 84.0 545.0 87.8 542.4 C91.6 539.8 96.1 537.4 98.6 536.2 C101.0 535.0 101.8 535.5 102.5 535.4" fill="none" stroke="#000" stroke-width="2.7" stroke-linejoin="round" stroke-linecap="round"/><path d="M63.4 557.8 C65.4 557.5 70.9 558.6 75.5 556.3 C80.1 554.0 86.8 547.0 90.9 543.9 C95.0 540.8 98.3 539.0 100.2 537.7 C102.1 536.4 102.1 536.5 102.5 536.2" fill="none" stroke="#000" stroke-width="2.7" stroke-linejoin="round" stroke-linecap="round"/><path d="M63.4 560.2 C65.4 559.9 70.9 560.8 75.5 558.6 C80.1 556.4 86.4 550.7 90.9 547.0 C95.4 543.3 99.2 537.0 102.5 536.2 C105.8 535.4 107.8 540.1 111.0 542.4 C114.2 544.7 118.2 548.2 121.8 550.1 C125.4 552.0 129.7 553.2 132.6 554.0 C135.5 554.8 136.6 555.6 139.4 555.0 C142.2 554.4 145.9 552.7 149.5 550.2 C153.1 547.7 157.8 542.9 161.2 540.0 C164.6 537.1 168.7 533.9 170.2 532.7" fill="none" stroke="#000" stroke-width="2.7" stroke-linejoin="round" stroke-linecap="round"/><path d="M102.5 432.0 C104.4 432.2 110.4 432.5 114.1 433.4 C117.8 434.3 121.6 436.0 124.9 437.3 C128.2 438.6 131.8 440.4 134.2 441.1 C136.6 441.9 137.8 441.8 139.4 441.8 C141.0 441.8 142.0 442.0 143.7 441.1 C145.4 440.2 147.6 438.2 149.5 436.7 C151.4 435.2 154.4 432.9 155.4 432.2" fill="none" stroke="#000" stroke-width="2.7" stroke-linejoin="round" stroke-linecap="round"/><path d="M170.2 470.2 C171.6 467.8 176.0 460.0 178.6 455.6 C181.2 451.2 183.7 447.6 185.9 444.0 C188.1 440.4 190.2 435.8 191.7 433.8 C193.1 431.8 194.1 432.5 194.6 432.2" fill="none" stroke="#000" stroke-width="2.7" stroke-linejoin="round" stroke-linecap="round"/><path d="M193.2 432.2 C194.4 432.9 198.3 435.6 200.5 436.7 C202.7 437.8 204.5 438.5 206.3 438.9 C208.1 439.3 208.7 439.1 211.5 439.0 C214.3 438.9 219.4 438.4 222.9 438.5 C226.4 438.6 229.6 440.1 232.5 439.5 C235.4 438.9 238.2 435.9 240.1 434.7 C242.0 433.5 243.3 432.6 243.9 432.2" fill="none" stroke="#000" stroke-width="2.7" stroke-linejoin="round" stroke-linecap="round"/><path d="M170.2 529.8 C171.6 527.9 175.2 523.1 178.6 518.2 C181.9 513.4 187.2 504.8 190.3 500.7 C193.5 496.6 194.8 494.8 197.5 493.5 C200.2 492.2 202.1 492.7 206.3 492.9 C210.5 493.1 217.3 493.7 222.9 494.8 C228.5 495.9 234.4 498.7 240.1 499.6 C245.8 500.6 251.9 501.0 257.3 500.5 C262.7 500.0 267.4 496.5 272.5 496.7 C277.6 496.9 282.7 499.9 287.8 501.5 C292.9 503.1 300.6 505.5 303.1 506.3" fill="none" stroke="#000" stroke-width="2.7" stroke-linejoin="round" stroke-linecap="round"/><path d="M170.2 531.3 C172.1 529.8 177.2 525.2 181.5 522.5 C185.8 519.8 192.0 516.8 196.1 515.3 C200.2 513.8 202.5 514.3 206.3 513.8 C210.1 513.2 215.1 510.7 219.1 512.0 C223.1 513.3 227.0 519.0 230.5 521.5 C234.0 524.0 235.9 528.6 240.1 527.3 C244.2 526.0 249.7 517.4 255.4 513.9 C261.1 510.4 268.8 506.6 274.5 506.3 C280.2 506.0 284.9 509.5 289.7 512.0 C294.5 514.5 300.9 519.9 303.1 521.5" fill="none" stroke="#000" stroke-width="2.7" stroke-linejoin="round" stroke-linecap="round"/><path d="M206.3 510.1 C208.1 509.8 213.5 506.9 217.2 508.2 C220.9 509.5 224.8 514.7 228.6 517.7 C232.4 520.7 235.9 527.2 240.1 526.3 C244.2 525.3 248.1 515.6 253.5 512.0 C258.9 508.4 267.1 505.0 272.5 504.4 C277.9 503.8 280.8 505.7 285.9 508.2 C291.0 510.7 300.2 517.7 303.1 519.6" fill="none" stroke="#000" stroke-width="2.7" stroke-linejoin="round" stroke-linecap="round"/><path d="M170.2 532.7 C171.6 534.2 175.2 538.4 178.6 541.5 C181.9 544.6 186.7 548.9 190.3 551.6 C194.0 554.3 197.8 556.3 200.5 557.5 C203.2 558.7 202.6 558.4 206.3 558.9 C210.0 559.4 217.3 560.6 222.9 560.7 C228.5 560.8 234.4 560.0 240.1 559.7 C245.8 559.4 252.8 558.8 257.3 558.8 C261.8 558.8 264.0 559.4 267.0 560.0 C270.0 560.6 271.9 562.6 275.4 562.6 C278.9 562.6 283.2 561.8 287.8 559.7 C292.4 557.6 300.6 551.8 303.1 550.2" fill="none" stroke="#000" stroke-width="2.7" stroke-linejoin="round" stroke-linecap="round"/><path d="M170.2 532.7 C172.0 534.8 177.4 542.0 181.0 545.0 C184.6 548.0 188.8 549.7 192.0 551.0 C195.2 552.3 198.1 552.7 200.5 553.0 C202.9 553.3 202.6 554.4 206.3 553.0 C210.0 551.6 217.3 547.2 222.9 544.5 C228.5 541.8 234.4 536.5 240.1 536.8 C245.8 537.1 251.4 544.2 257.3 546.4 C263.2 548.6 270.3 550.2 275.4 550.2 C280.5 550.2 283.2 548.3 287.8 546.4 C292.4 544.5 300.6 540.0 303.1 538.7" fill="none" stroke="#000" stroke-width="2.7" stroke-linejoin="round" stroke-linecap="round"/><path d="M206.3 558.8 C209.1 557.4 217.3 553.7 222.9 550.2 C228.5 546.7 234.4 538.1 240.1 537.8 C245.8 537.5 251.4 545.9 257.3 548.3 C263.2 550.7 270.3 551.8 275.4 552.1 C280.5 552.4 283.2 551.8 287.8 550.2 C292.4 548.6 300.6 543.8 303.1 542.5" fill="none" stroke="#000" stroke-width="2.7" stroke-linejoin="round" stroke-linecap="round"/><path d="M206.3 437.5 C208.4 438.1 215.4 440.3 219.1 441.4 C222.8 442.5 225.1 443.7 228.6 444.2 C232.1 444.7 235.9 444.7 240.1 444.2 C244.2 443.7 247.6 442.0 253.5 441.4 C259.4 440.8 269.7 440.7 275.4 440.4 C281.1 440.1 283.5 440.6 287.8 439.5 C292.1 438.4 299.0 434.7 301.2 433.7" fill="none" stroke="#000" stroke-width="2.7" stroke-linejoin="round" stroke-linecap="round"/><path d="M211.5 433.0 C212.8 434.1 216.2 436.8 219.1 439.5 C221.9 442.2 225.4 445.8 228.6 449.0 C231.8 452.2 234.7 455.9 238.2 458.5 C241.7 461.1 245.5 462.7 249.6 464.3 C253.7 465.9 258.7 467.3 263.0 468.1 C267.3 468.9 271.3 469.3 275.4 469.0 C279.5 468.7 283.2 466.5 287.8 466.2 C292.4 465.9 300.6 467.0 303.1 467.1" fill="none" stroke="#000" stroke-width="2.7" stroke-linejoin="round" stroke-linecap="round"/><path d="M222.9 494.8 C224.8 492.9 230.6 487.5 234.4 483.4 C238.2 479.3 242.0 474.1 245.8 470.0 C249.6 465.9 253.8 460.8 257.3 458.5 C260.8 456.2 263.8 456.6 266.8 456.3 C269.8 456.0 271.9 455.9 275.4 456.6 C278.9 457.3 283.2 458.8 287.8 460.5 C292.4 462.2 300.6 466.0 303.1 467.1" fill="none" stroke="#000" stroke-width="2.7" stroke-linejoin="round" stroke-linecap="round"/><path d="M242.0 432.8 C244.6 433.1 251.7 433.9 257.3 434.7 C262.9 435.5 270.3 437.4 275.4 437.5 C280.5 437.6 283.2 436.4 287.8 435.6 C292.4 434.8 300.6 433.3 303.1 432.8" fill="none" stroke="#000" stroke-width="2.7" stroke-linejoin="round" stroke-linecap="round"/><path d="M63.4 679.2 C65.2 679.3 70.6 678.5 73.9 679.7 C77.2 680.9 79.9 684.0 83.2 686.6 C86.5 689.2 90.8 692.9 94.0 695.1 C97.2 697.3 97.9 699.1 102.5 699.8 C107.1 700.5 115.6 699.5 121.8 699.3 C128.0 699.1 134.8 699.0 139.4 698.7 C144.0 698.4 144.4 697.6 149.5 697.7 C154.6 697.8 165.3 700.3 170.2 699.2 C175.0 698.1 175.2 693.9 178.6 691.2 C181.9 688.5 186.7 685.2 190.3 683.2 C194.0 681.2 197.8 680.2 200.5 679.5 C203.2 678.8 204.5 679.0 206.3 679.1 C208.1 679.2 209.4 679.5 211.5 680.0 C213.6 680.5 214.3 679.6 219.1 682.2 C223.9 684.8 235.4 692.6 240.5 695.5 C245.6 698.4 245.8 698.6 249.6 699.4 C253.3 700.2 258.7 700.0 263.0 700.3 C267.3 700.6 271.3 701.4 275.4 701.3 C279.5 701.1 283.2 699.9 287.8 699.4 C292.4 698.9 300.6 698.6 303.1 698.4" fill="none" stroke="#000" stroke-width="2.7" stroke-linejoin="round" stroke-linecap="round"/><path d="M63.4 710.6 C65.4 710.0 70.9 708.1 75.5 706.7 C80.1 705.3 86.4 703.2 90.9 702.1 C95.4 701.0 100.6 700.2 102.5 699.8" fill="none" stroke="#000" stroke-width="2.7" stroke-linejoin="round" stroke-linecap="round"/><path d="M170.2 699.2 C171.6 700.1 175.2 702.7 178.6 704.3 C181.9 705.9 186.7 707.6 190.3 708.6 C194.0 709.6 197.8 710.0 200.5 710.4 C203.2 710.8 203.2 711.4 206.3 710.8 C209.4 710.2 213.4 708.6 219.1 707.0 C224.8 705.4 235.4 702.6 240.5 701.3 C245.6 700.0 245.8 700.5 249.6 699.4 C253.3 698.3 258.7 695.6 263.0 694.6 C267.3 693.6 271.3 693.4 275.4 693.6 C279.5 693.8 283.2 695.1 287.8 695.9 C292.4 696.7 300.6 698.0 303.1 698.4" fill="none" stroke="#000" stroke-width="2.7" stroke-linejoin="round" stroke-linecap="round"/><path d="M63.4 719.9 C65.4 720.0 70.9 720.1 75.5 720.6 C80.1 721.1 86.4 722.5 90.9 723.0 C95.4 723.5 97.3 724.0 102.5 723.7 C107.7 723.4 115.6 721.5 121.8 721.4 C128.0 721.3 134.8 722.7 139.4 723.2 C144.0 723.7 144.4 724.6 149.5 724.6 C154.6 724.6 164.1 723.8 170.2 723.2 C176.3 722.6 179.9 721.5 185.9 721.0 C191.9 720.5 197.2 720.4 206.3 720.4 C215.4 720.4 229.0 721.1 240.5 721.3 C252.0 721.4 265.0 721.0 275.4 721.3 C285.8 721.6 298.5 722.9 303.1 723.2" fill="none" stroke="#000" stroke-width="2.7" stroke-linejoin="round" stroke-linecap="round"/><path d="M63.4 723.0 C65.4 722.9 70.9 722.0 75.5 722.2 C80.1 722.5 86.4 724.1 90.9 724.5 C95.4 724.9 97.3 724.1 102.5 724.5 C107.7 724.9 115.6 726.6 121.8 726.8 C128.0 726.9 134.8 725.9 139.4 725.4 C144.0 724.9 144.4 724.3 149.5 723.9 C154.6 723.5 164.1 723.1 170.2 723.2 C176.3 723.3 179.9 724.3 185.9 724.6 C191.9 724.9 200.1 724.9 206.3 725.1 C212.5 725.4 217.2 725.9 222.9 726.1 C228.6 726.3 234.8 725.8 240.5 726.1 C246.2 726.4 251.2 727.9 257.0 728.0 C262.8 728.1 267.7 727.3 275.4 727.0 C283.1 726.7 298.5 726.2 303.1 726.1" fill="none" stroke="#000" stroke-width="2.7" stroke-linejoin="round" stroke-linecap="round"/><path d="M206.3 729.0 C209.1 728.8 217.2 727.5 222.9 727.5 C228.6 727.5 234.8 728.6 240.5 729.0 C246.2 729.4 251.2 729.7 257.0 730.0 C262.8 730.3 267.7 731.3 275.4 731.0 C283.1 730.7 298.5 728.5 303.1 728.0" fill="none" stroke="#000" stroke-width="2.7" stroke-linejoin="round" stroke-linecap="round"/><path d="M63.4 732.2 C65.4 732.2 70.9 731.8 75.5 732.2 C80.1 732.6 86.4 734.1 90.9 734.6 C95.4 735.1 97.3 735.4 102.5 735.3 C107.7 735.2 115.6 734.2 121.8 733.8 C128.0 733.3 134.8 732.9 139.4 732.6 C144.0 732.3 145.9 731.5 149.5 731.9 C153.1 732.3 157.6 733.9 161.0 734.8 C164.4 735.6 166.5 736.8 170.2 737.0 C173.9 737.2 178.7 736.7 183.0 736.3 C187.3 735.9 192.1 734.9 196.0 734.8 C199.9 734.7 201.8 735.6 206.3 735.6 C210.8 735.6 217.2 734.5 222.9 734.7 C228.6 734.9 234.8 736.1 240.5 736.6 C246.2 737.1 251.2 737.2 257.0 737.5 C262.8 737.8 267.7 739.1 275.4 738.5 C283.1 737.9 298.5 734.5 303.1 733.7" fill="none" stroke="#000" stroke-width="2.7" stroke-linejoin="round" stroke-linecap="round"/><path d="M63.4 734.6 C65.4 734.5 70.9 733.0 75.5 733.8 C80.1 734.6 86.4 737.9 90.9 739.2 C95.4 740.5 97.3 741.1 102.5 741.5 C107.7 741.9 115.6 741.4 121.8 741.5 C128.0 741.6 134.8 741.9 139.4 742.1 C144.0 742.3 145.9 742.4 149.5 742.8 C153.1 743.2 157.6 743.8 161.0 744.3 C164.4 744.8 166.5 746.8 170.2 745.7 C173.9 744.6 178.7 739.5 183.0 737.7 C187.3 735.9 192.1 735.0 196.0 734.8 C199.9 734.6 201.8 736.0 206.3 736.6 C210.8 737.2 217.2 737.7 222.9 738.5 C228.6 739.3 234.8 740.6 240.5 741.4 C246.2 742.2 251.2 743.0 257.0 743.3 C262.8 743.6 267.7 743.3 275.4 743.3 C283.1 743.3 298.5 743.3 303.1 743.3" fill="none" stroke="#000" stroke-width="2.7" stroke-linejoin="round" stroke-linecap="round"/><path d="M63.4 755.4 C65.4 754.6 71.7 752.2 75.5 750.8 C79.3 749.4 82.7 747.3 86.3 746.9 C89.9 746.5 94.4 748.0 97.1 748.5 C99.8 749.0 101.6 749.8 102.5 750.0" fill="none" stroke="#000" stroke-width="2.7" stroke-linejoin="round" stroke-linecap="round"/><path d="M63.4 755.4 C65.4 755.3 70.9 755.1 75.5 754.6 C80.1 754.1 86.4 753.1 90.9 752.3 C95.4 751.5 97.3 750.1 102.5 750.0 C107.7 749.9 115.6 751.2 121.8 751.6 C128.0 752.0 134.8 752.4 139.4 752.3 C144.0 752.2 145.9 751.5 149.5 750.8 C153.1 750.1 157.6 748.8 161.0 747.9 C164.4 747.0 166.5 745.2 170.2 745.7 C173.9 746.2 178.7 749.2 183.0 750.8 C187.3 752.4 192.1 754.4 196.0 755.2 C199.9 756.1 201.8 755.7 206.3 755.9 C210.8 756.1 217.2 757.1 222.9 756.6 C228.6 756.1 234.8 753.1 240.5 752.8 C246.2 752.5 251.2 754.7 257.0 754.7 C262.8 754.7 267.7 753.8 275.4 752.8 C283.1 751.8 298.5 749.6 303.1 749.0" fill="none" stroke="#000" stroke-width="2.7" stroke-linejoin="round" stroke-linecap="round"/><path d="M206.3 754.7 C208.4 753.9 215.1 751.4 219.1 750.0 C223.1 748.6 226.9 746.3 230.5 746.1 C234.1 745.9 236.1 748.5 240.5 749.0 C244.9 749.5 251.2 749.0 257.0 749.0 C262.8 749.0 267.7 749.6 275.4 749.0 C283.1 748.4 298.5 745.8 303.1 745.2" fill="none" stroke="#000" stroke-width="2.7" stroke-linejoin="round" stroke-linecap="round"/><path d="M63.4 765.5 C65.4 765.8 70.9 765.7 75.5 767.0 C80.1 768.3 86.4 771.4 90.9 773.2 C95.4 775.0 97.3 776.8 102.5 777.8 C107.7 778.8 115.6 779.4 121.8 779.4 C128.0 779.4 134.8 778.0 139.4 777.7 C144.0 777.4 145.9 777.3 149.5 777.7 C153.1 778.1 157.6 779.3 161.0 779.9 C164.4 780.5 166.5 782.1 170.2 781.4 C173.9 780.7 178.7 777.7 183.0 775.5 C187.3 773.3 192.1 769.6 196.0 768.3 C199.9 767.0 201.8 767.4 206.3 767.5 C210.8 767.6 217.2 768.0 222.9 769.0 C228.6 770.0 234.8 772.7 240.5 773.8 C246.2 774.9 251.2 776.0 257.0 775.7 C262.8 775.4 267.7 772.2 275.4 771.9 C283.1 771.6 298.5 773.5 303.1 773.8" fill="none" stroke="#000" stroke-width="2.7" stroke-linejoin="round" stroke-linecap="round"/><path d="M63.4 767.0 C65.4 766.8 70.9 765.5 75.5 765.5 C80.1 765.5 86.4 766.9 90.9 767.0 C95.4 767.1 97.3 766.1 102.5 766.2 C107.7 766.3 115.6 767.3 121.8 767.8 C128.0 768.3 134.8 768.7 139.4 769.0 C144.0 769.3 145.9 769.2 149.5 769.7 C153.1 770.2 157.6 771.3 161.0 771.9 C164.4 772.5 166.5 774.0 170.2 773.4 C173.9 772.8 178.7 769.5 183.0 768.3 C187.3 767.1 192.1 766.6 196.0 766.1 C199.9 765.6 201.8 765.2 206.3 765.2 C210.8 765.2 217.2 765.7 222.9 766.2 C228.6 766.7 234.8 768.1 240.5 768.1 C246.2 768.1 251.2 766.4 257.0 766.2 C262.8 766.0 267.7 766.5 275.4 767.1 C283.1 767.7 298.5 769.5 303.1 770.0" fill="none" stroke="#000" stroke-width="2.7" stroke-linejoin="round" stroke-linecap="round"/><path d="M80.0 764.5 C81.3 764.2 85.5 762.8 88.0 763.0 C90.5 763.2 93.8 765.1 95.0 765.5" fill="none" stroke="#000" stroke-width="2.7" stroke-linejoin="round" stroke-linecap="round"/><path d="M63.4 787.9 C65.4 787.6 70.9 787.5 75.5 786.3 C80.1 785.1 86.4 782.3 90.9 780.9 C95.4 779.5 100.6 778.3 102.5 777.8" fill="none" stroke="#000" stroke-width="2.7" stroke-linejoin="round" stroke-linecap="round"/><path d="M63.4 727.0 C66.2 727.1 73.5 727.3 80.0 727.5 C86.5 727.7 95.5 727.8 102.5 728.0 C109.5 728.2 115.6 728.8 121.8 729.0 C128.0 729.2 133.9 729.6 139.4 729.5 C144.9 729.4 149.9 728.7 155.0 728.5 C160.1 728.3 164.7 728.3 170.2 728.5 C175.7 728.7 182.0 729.2 188.0 729.5 C194.0 729.8 200.5 730.2 206.3 730.5 C212.1 730.8 217.2 730.8 222.9 731.0 C228.6 731.2 234.8 731.2 240.5 731.5 C246.2 731.8 251.2 732.7 257.0 733.0 C262.8 733.3 267.7 733.8 275.4 733.5 C283.1 733.2 298.5 731.4 303.1 731.0" fill="none" stroke="#000" stroke-width="2.7" stroke-linejoin="round" stroke-linecap="round"/><path d="M63.4 737.5 C66.2 737.6 73.5 737.8 80.0 738.0 C86.5 738.2 95.5 738.6 102.5 738.5 C109.5 738.4 115.6 737.7 121.8 737.5 C128.0 737.3 133.9 737.3 139.4 737.5 C144.9 737.7 149.9 738.2 155.0 738.5 C160.1 738.8 164.7 739.2 170.2 739.5 C175.7 739.8 182.0 740.0 188.0 740.0 C194.0 740.0 200.5 739.5 206.3 739.5 C212.1 739.5 217.2 739.8 222.9 740.0 C228.6 740.2 234.8 740.6 240.5 740.5 C246.2 740.4 251.2 739.7 257.0 739.5 C262.8 739.3 267.7 739.7 275.4 739.5 C283.1 739.3 298.5 738.7 303.1 738.5" fill="none" stroke="#000" stroke-width="2.7" stroke-linejoin="round" stroke-linecap="round"/><path d="M63.4 794.8 C65.4 794.4 70.9 793.4 75.5 792.5 C80.1 791.6 86.4 790.2 90.9 789.4 C95.4 788.6 97.3 788.3 102.5 787.9 C107.7 787.5 115.6 787.5 121.8 787.1 C128.0 786.7 134.8 786.2 139.4 785.7 C144.0 785.2 145.9 784.9 149.5 784.3 C153.1 783.7 157.6 782.7 161.0 782.1 C164.4 781.5 166.5 779.8 170.2 780.6 C173.9 781.5 178.7 785.4 183.0 787.2 C187.3 789.0 192.1 790.5 196.0 791.5 C199.9 792.5 201.8 793.0 206.3 792.9 C210.8 792.8 217.2 792.0 222.9 791.0 C228.6 790.0 234.8 787.8 240.5 787.2 C246.2 786.6 251.2 786.9 257.0 787.2 C262.8 787.5 267.7 789.7 275.4 789.1 C283.1 788.5 298.5 784.4 303.1 783.4" fill="none" stroke="#000" stroke-width="2.7" stroke-linejoin="round" stroke-linecap="round"/><path d="M170.2 773.4 C172.3 775.2 178.7 781.6 183.0 784.3 C187.3 787.0 192.1 788.4 196.0 789.4 C199.9 790.4 201.8 790.5 206.3 790.1 C210.8 789.7 217.2 788.6 222.9 787.2 C228.6 785.8 234.8 782.8 240.5 781.5 C246.2 780.2 251.2 780.1 257.0 779.5 C262.8 778.9 267.7 777.0 275.4 777.6 C283.1 778.2 298.5 782.4 303.1 783.4" fill="none" stroke="#000" stroke-width="2.7" stroke-linejoin="round" stroke-linecap="round"/><path d="M206.3 768.1 C209.1 768.7 217.2 770.6 222.9 771.9 C228.6 773.2 234.8 774.1 240.5 775.7 C246.2 777.3 251.2 780.2 257.0 781.5 C262.8 782.8 267.7 783.7 275.4 783.4 C283.1 783.1 298.5 780.1 303.1 779.5" fill="none" stroke="#000" stroke-width="2.7" stroke-linejoin="round" stroke-linecap="round"/><path d="M310.7 432.2 C311.5 432.6 315.0 433.3 315.3 434.4 C315.6 435.5 313.6 437.2 312.5 438.9 C311.4 440.6 309.8 442.6 308.9 444.4 C308.0 446.2 307.1 448.0 307.1 449.8 C307.1 451.6 308.8 453.5 308.9 455.3 C309.0 457.1 307.9 458.9 308.0 460.7 C308.1 462.5 309.8 464.4 309.8 466.2 C309.8 468.0 308.6 469.8 308.0 471.6 C307.4 473.4 306.5 475.3 306.2 477.1 C305.9 478.9 305.9 480.7 306.2 482.5 C306.5 484.3 306.9 486.2 308.0 488.0 C309.1 489.8 311.1 491.8 312.5 493.5 C313.9 495.2 315.3 496.8 316.2 498.0 C317.1 499.2 318.0 499.6 318.0 500.7 C318.0 501.8 316.5 503.2 316.2 504.4 C315.9 505.6 316.8 506.8 316.2 508.0 C315.6 509.2 313.3 510.4 312.5 511.6 C311.7 512.8 311.3 514.1 311.6 515.3 C311.9 516.5 313.3 517.7 314.4 518.9 C315.5 520.1 318.0 521.3 318.0 522.5 C318.0 523.7 316.2 525.0 314.4 526.2 C312.6 527.4 308.5 528.8 307.1 529.8 C305.7 530.8 305.3 531.6 306.2 532.5 C307.1 533.4 310.5 534.4 312.5 535.3 C314.5 536.2 318.0 537.0 318.0 538.0 C318.0 539.0 313.7 540.5 312.5 541.6 C311.3 542.7 310.4 543.3 310.7 544.4 C311.0 545.5 313.6 546.8 314.4 548.0 C315.2 549.2 315.6 550.4 315.3 551.6 C315.0 552.8 313.6 554.1 312.5 555.3 C311.4 556.5 310.1 557.5 308.9 558.9 C307.7 560.3 305.9 562.7 305.3 563.5" fill="none" stroke="#05f005" stroke-width="2.6" stroke-linejoin="round"/><path d="M304.5 679.8 C305.6 680.7 308.9 683.7 311.1 685.3 C313.3 686.9 315.1 688.0 317.6 689.6 C320.2 691.2 322.4 693.5 326.4 695.1 C330.4 696.8 340.9 698.4 341.6 699.5 C342.3 700.6 335.1 700.7 330.7 701.6 C326.3 702.5 319.5 703.8 315.5 704.9 C311.5 706.0 308.5 707.3 306.7 708.2 C304.9 709.1 304.9 710.0 304.5 710.4" fill="none" stroke="#05f005" stroke-width="2.6" stroke-linejoin="round"/><path d="M304.5 715.8 C307.1 716.2 310.0 717.3 319.8 718.0 C329.6 718.7 350.1 719.8 363.5 720.2 C376.9 720.6 390.3 720.2 400.0 720.5 C409.7 720.8 415.7 721.0 421.8 721.8 C427.9 722.6 435.9 724.2 436.8 725.1 C437.7 726.0 432.5 726.7 427.3 727.3 C422.1 727.9 409.9 728.3 405.5 728.6 C401.1 728.9 401.1 728.3 400.6 728.9 C400.1 729.5 404.2 731.3 402.7 732.2 C401.2 733.1 396.5 733.5 391.8 734.4 C387.1 735.3 379.1 736.7 374.4 737.6 C369.7 738.5 367.5 738.5 363.5 739.8 C359.5 741.1 352.9 743.8 350.4 745.3 C347.8 746.8 349.7 747.1 348.2 748.6 C346.7 750.1 345.6 752.5 341.6 754.0 C337.6 755.5 328.9 756.4 324.2 757.3 C319.5 758.2 314.0 758.8 313.3 759.5 C312.6 760.2 315.1 760.9 319.8 761.6 C324.5 762.3 335.1 763.1 341.6 763.8 C348.2 764.5 355.8 765.1 359.1 766.0 C362.4 766.9 364.2 768.2 361.3 769.3 C358.4 770.4 345.6 771.3 341.6 772.6 C337.6 773.9 336.6 775.6 337.3 776.9 C338.0 778.2 342.4 779.1 346.0 780.2 C349.6 781.3 356.2 782.4 359.1 783.5 C362.0 784.6 366.4 785.6 363.5 786.7 C360.6 787.8 349.6 789.1 341.6 790.0 C333.6 790.9 321.3 791.5 315.5 792.2 C309.7 792.9 308.5 793.7 306.7 794.4 C304.9 795.1 304.9 796.2 304.5 796.6" fill="none" stroke="#05f005" stroke-width="2.6" stroke-linejoin="round"/><path d="M307.1 432.2 C307.0 433.3 306.5 436.0 306.2 438.9 C305.9 441.8 305.4 445.6 305.3 449.8 C305.2 454.1 305.3 458.9 305.3 464.4 C305.3 469.8 304.7 478.0 305.3 482.5 C305.9 487.0 307.1 489.2 308.9 491.6 C310.7 494.0 313.8 495.6 316.2 497.1 C318.6 498.6 322.6 499.5 323.5 500.7 C324.4 501.9 321.6 503.2 321.6 504.4 C321.6 505.6 324.1 506.8 323.5 508.0 C322.9 509.2 319.5 510.4 318.0 511.6 C316.5 512.8 314.7 514.1 314.4 515.3 C314.1 516.5 314.7 517.7 316.2 518.9 C317.7 520.1 322.9 521.4 323.5 522.5 C324.1 523.6 322.2 524.1 319.8 525.3 C317.4 526.5 310.7 528.6 308.9 529.8 C307.1 531.0 307.1 531.6 308.9 532.5 C310.7 533.4 316.8 534.4 319.8 535.3 C322.8 536.2 326.8 537.1 327.1 538.0 C327.4 538.9 323.1 539.8 321.6 540.7 C320.1 541.6 318.0 542.6 318.0 543.5 C318.0 544.4 320.2 545.3 321.6 546.2 C323.0 547.1 325.6 548.0 326.2 548.9 C326.8 549.8 326.1 550.5 325.3 551.6 C324.5 552.7 323.7 554.1 321.6 555.3 C319.5 556.5 314.9 557.7 312.5 558.9 C310.1 560.1 308.3 561.6 307.1 562.5 C305.9 563.4 305.6 564.1 305.3 564.4" fill="none" stroke="#ff0808" stroke-width="2.2" stroke-linejoin="round"/><path d="M304.5 680.9 C305.2 682.0 307.4 685.3 308.9 687.5 C310.4 689.7 311.7 692.2 313.3 694.0 C314.9 695.8 318.7 697.1 318.7 698.4 C318.7 699.7 315.3 700.3 313.3 701.6 C311.3 702.9 308.2 704.7 306.7 706.0 C305.2 707.3 304.9 708.8 304.5 709.3" fill="none" stroke="#ff0808" stroke-width="2.2" stroke-linejoin="round"/><path d="M304.5 718.0 C304.7 720.9 305.2 729.7 305.6 735.5 C306.0 741.3 306.1 748.5 306.7 752.9 C307.2 757.2 308.0 759.4 308.9 761.6 C309.8 763.8 311.5 764.2 312.2 766.0 C312.9 767.8 313.5 770.4 313.3 772.6 C313.1 774.8 311.1 776.9 311.1 779.1 C311.1 781.3 312.8 783.8 313.3 785.6 C313.9 787.4 315.1 788.5 314.4 790.0 C313.7 791.5 310.5 793.3 308.9 794.4 C307.2 795.5 305.2 796.2 304.5 796.6" fill="none" stroke="#ff0808" stroke-width="2.2" stroke-linejoin="round"/><path d="M304.4 567.0 L304.4 432.5" fill="none" stroke="#0808ff" stroke-width="2.2" stroke-linejoin="round"/><path d="M304.4 802.5 L304.4 677.0" fill="none" stroke="#0808ff" stroke-width="2.2" stroke-linejoin="round"/><path d="M358.0 432.0 C360.7 432.2 369.2 432.8 374.4 433.5 C379.5 434.2 388.9 435.4 388.9 436.2 C388.9 436.9 378.0 437.2 374.4 438.0 C370.8 438.8 370.8 439.6 367.1 440.7 C363.5 441.8 359.5 443.2 352.5 444.4 C345.5 445.6 331.4 447.1 325.3 448.0 C319.2 448.9 317.4 449.1 316.2 449.8 C315.0 450.6 315.6 451.9 318.0 452.5 C320.4 453.1 327.4 453.0 330.7 453.5 C334.0 454.0 337.4 454.7 338.0 455.3 C338.6 455.9 336.5 456.5 334.4 457.1 C332.3 457.7 326.8 458.1 325.3 458.9 C323.8 459.6 323.8 460.7 325.3 461.6 C326.8 462.5 331.7 463.2 334.4 464.4 C337.1 465.6 341.6 467.7 341.6 468.9 C341.6 470.1 338.6 470.8 334.4 471.6 C330.2 472.4 320.1 472.9 316.2 473.5 C312.2 474.1 311.3 474.4 310.7 475.3 C310.1 476.2 311.0 478.0 312.5 478.9 C314.0 479.8 318.9 480.1 319.8 480.7 C320.7 481.3 319.2 481.6 318.0 482.5 C316.8 483.4 313.1 484.8 312.5 486.2 C311.9 487.6 312.9 489.2 314.4 490.7 C315.9 492.2 316.8 494.1 321.6 495.3 C326.5 496.5 336.5 497.2 343.5 498.0 C350.5 498.8 360.8 499.1 363.5 499.8 C366.2 500.6 361.6 501.7 359.8 502.5 C358.0 503.3 351.6 503.6 352.5 504.4 C353.4 505.2 364.4 506.4 365.3 507.1 C366.2 507.9 361.6 508.1 358.0 508.9 C354.4 509.6 347.8 510.8 343.5 511.6 C339.2 512.4 334.5 512.6 332.5 513.5 C330.5 514.4 329.8 515.9 331.6 517.1 C333.4 518.3 338.5 519.8 343.5 520.7 C348.5 521.6 357.1 522.0 361.6 522.5 C366.1 523.0 370.7 523.0 370.7 523.5 C370.7 524.0 367.7 524.5 361.6 525.3 C355.6 526.0 342.9 527.2 334.4 528.0 C325.9 528.8 314.9 529.2 310.7 529.8 C306.4 530.4 308.0 531.1 308.9 531.6 C309.8 532.1 308.9 531.9 316.2 532.5 C323.5 533.1 341.9 534.5 352.5 535.3 C363.1 536.1 376.8 536.4 379.8 537.1 C382.8 537.9 376.8 539.0 370.7 539.8 C364.6 540.5 350.2 541.0 343.5 541.6 C336.8 542.2 332.2 542.9 330.7 543.5 C329.2 544.1 330.1 544.7 334.4 545.3 C338.6 545.9 349.5 546.5 356.2 547.1 C362.9 547.7 371.4 548.3 374.4 548.9 C377.4 549.5 375.9 550.1 374.4 550.7 C372.9 551.3 366.8 551.9 365.3 552.5 C363.8 553.1 367.4 553.8 365.3 554.4 C363.2 555.0 359.2 555.3 352.5 556.2 C345.8 557.1 332.6 558.8 325.3 559.8 C318.0 560.8 312.2 561.7 308.9 562.5 C305.6 563.3 306.1 563.8 305.3 564.4 C304.6 565.0 304.5 565.9 304.4 566.2" fill="none" stroke="#000" stroke-width="2.6" stroke-linejoin="round"/><path d="M304.5 678.7 C305.2 679.4 307.4 682.0 308.9 683.1 C310.4 684.2 312.2 684.4 313.3 685.3 C314.4 686.2 312.6 687.4 315.5 688.5 C318.4 689.6 323.4 690.5 330.7 691.8 C338.0 693.1 350.7 694.9 359.1 696.2 C367.5 697.5 380.2 698.4 380.9 699.5 C381.6 700.6 371.9 701.6 363.5 702.7 C355.1 703.8 339.4 705.1 330.7 706.0 C322.0 706.9 315.1 707.5 311.1 708.2 C307.1 708.9 307.8 709.5 306.7 710.4 C305.6 711.3 304.9 712.7 304.5 713.6 C304.1 714.5 303.4 715.1 304.5 715.8 C305.6 716.5 304.9 717.4 311.1 718.0 C317.3 718.6 326.8 719.4 341.6 719.7 C356.4 720.0 381.2 719.3 400.0 719.6 C418.8 719.9 438.6 720.7 454.5 721.3 C470.4 721.9 484.2 722.4 495.4 723.2 C506.5 724.0 521.4 725.2 521.4 725.9 C521.4 726.6 505.6 726.8 495.4 727.3 C485.2 727.8 466.4 728.1 460.0 728.6 C453.6 729.1 455.0 729.8 457.3 730.5 C459.6 731.2 474.1 732.0 473.6 732.7 C473.1 733.4 463.1 734.1 454.5 734.9 C445.9 735.7 430.4 736.0 421.8 737.6 C413.2 739.2 408.1 742.9 402.7 744.2 C397.3 745.5 392.5 744.2 389.6 745.3 C386.7 746.4 389.7 749.1 385.3 750.7 C380.9 752.3 372.6 753.8 363.5 755.1 C354.4 756.4 338.0 757.7 330.7 758.4 C323.4 759.1 319.8 759.0 319.8 759.5 C319.8 760.0 323.4 761.0 330.7 761.6 C338.0 762.2 351.9 762.8 363.5 763.4 C375.1 764.0 389.4 764.6 400.0 765.5 C410.6 766.4 427.3 767.7 427.3 768.7 C427.3 769.7 407.7 770.4 400.0 771.4 C392.3 772.4 385.2 773.6 380.9 774.7 C376.6 775.8 374.4 777.1 374.4 778.0 C374.4 778.9 376.6 779.7 380.9 780.2 C385.2 780.7 390.7 779.8 400.0 781.0 C409.3 782.2 436.8 785.6 436.8 787.3 C436.8 789.0 412.2 790.2 400.0 791.0 C387.8 791.8 376.9 791.6 363.5 792.2 C350.1 792.8 329.3 793.7 319.8 794.4 C310.3 795.1 309.2 795.5 306.7 796.6 C304.1 797.7 304.9 800.2 304.5 800.9" fill="none" stroke="#000" stroke-width="2.6" stroke-linejoin="round"/><line x1="63.4" y1="803.5" x2="73.9" y2="803.5" stroke="#000" stroke-width="2"/><text transform="translate(50.4 808.8) scale(1.040 1)" font-size="15.5" text-anchor="end">−4</text><line x1="63.4" y1="741.4" x2="73.9" y2="741.4" stroke="#000" stroke-width="2"/><text transform="translate(50.4 746.7) scale(1.040 1)" font-size="15.5" text-anchor="end">−2</text><line x1="63.4" y1="679.4" x2="73.9" y2="679.4" stroke="#000" stroke-width="2"/><text transform="translate(50.4 684.7) scale(1.040 1)" font-size="15.5" text-anchor="end">0</text><line x1="63.4" y1="617.3" x2="73.9" y2="617.3" stroke="#000" stroke-width="2"/><text transform="translate(50.4 622.6) scale(1.040 1)" font-size="15.5" text-anchor="end">2</text><line x1="63.4" y1="555.2" x2="73.9" y2="555.2" stroke="#000" stroke-width="2"/><text transform="translate(50.4 560.5) scale(1.040 1)" font-size="15.5" text-anchor="end">4</text><line x1="63.4" y1="493.2" x2="73.9" y2="493.2" stroke="#000" stroke-width="2"/><text transform="translate(50.4 498.5) scale(1.040 1)" font-size="15.5" text-anchor="end">6</text><line x1="63.4" y1="431.1" x2="73.9" y2="431.1" stroke="#000" stroke-width="2"/><text transform="translate(50.4 436.4) scale(1.040 1)" font-size="15.5" text-anchor="end">8</text><rect x="63.4" y="431.1" width="480.9" height="372.4" fill="none" stroke="#000" stroke-width="2.4"/><line x1="303.9" y1="431.1" x2="303.9" y2="803.5" stroke="#000" stroke-width="2.2"/><text transform="translate(6.2 436.5) scale(1.080 1)" font-size="20">(b)</text><text x="0" y="0" font-size="17" text-anchor="middle" transform="translate(33.0 616.5) scale(0.93 1) rotate(-90)">Energy(eV)</text><text transform="translate(64.5 822.7) scale(1.080 1)" font-size="14" text-anchor="middle">Γ</text><text transform="translate(103.6 822.7) scale(1.080 1)" font-size="14" text-anchor="middle">L</text><text transform="translate(141.1 822.7) scale(1.080 1)" font-size="14" text-anchor="middle">B<tspan font-size="11.5" dy="4">1</tspan><tspan dy="-4">|B</tspan></text><text transform="translate(169.1 822.7) scale(1.080 1)" font-size="14" text-anchor="middle">Z</text><text transform="translate(208.1 822.7) scale(1.080 1)" font-size="14" text-anchor="middle">Γ</text><text transform="translate(238.7 822.7) scale(1.080 1)" font-size="14" text-anchor="middle">X|Q</text><text transform="translate(274.9 822.7) scale(1.080 1)" font-size="14" text-anchor="middle">F</text><text transform="translate(308.4 822.7) scale(1.080 1)" font-size="14" text-anchor="middle">P<tspan font-size="11.5" dy="4">1</tspan></text><text transform="translate(70.4 664.9) scale(1.080 1)" font-size="16" fill="#ff0808">E<tspan font-size="13" dy="5.5">f</tspan></text><line x1="445.2" y1="596.1" x2="478.8" y2="596.1" stroke="#000" stroke-width="2.4"/><text transform="translate(482.2 601.4) scale(1.080 1)" font-size="16">TDOS</text><line x1="445.2" y1="618.2" x2="478.8" y2="618.2" stroke="#ff0808" stroke-width="2.4"/><text transform="translate(482.2 623.5) scale(1.080 1)" font-size="16">Ge</text><line x1="445.2" y1="640.2" x2="478.8" y2="640.2" stroke="#05f005" stroke-width="2.4"/><text transform="translate(482.2 645.5) scale(1.080 1)" font-size="16">Br</text><line x1="445.2" y1="663.6" x2="478.8" y2="663.6" stroke="#0808ff" stroke-width="2.4"/><text transform="translate(482.2 668.9) scale(1.080 1)" font-size="16">Na</text><circle cx="205.4" cy="678.6" r="3.6" fill="#0a0aff"/><text transform="translate(172.0 673.0) scale(1.000 1)" font-size="13.5">VBM</text><circle cx="275.4" cy="562.6" r="3.6" fill="#0a0aff"/><text transform="translate(241.5 574.2) scale(1.000 1)" font-size="13.5">CBM</text></g>
<g><line x1="102.6" y1="846.9" x2="102.6" y2="1220.5" stroke="#111" stroke-width="1.5"/><line x1="134.0" y1="846.9" x2="134.0" y2="1220.5" stroke="#111" stroke-width="1.5"/><line x1="165.5" y1="846.9" x2="165.5" y2="1220.5" stroke="#111" stroke-width="1.5"/><line x1="200.3" y1="846.9" x2="200.3" y2="1220.5" stroke="#111" stroke-width="1.5"/><line x1="232.5" y1="846.9" x2="232.5" y2="1220.5" stroke="#111" stroke-width="1.5"/><line x1="263.6" y1="846.9" x2="263.6" y2="1220.5" stroke="#111" stroke-width="1.5"/><line x1="72.4" y1="1096.2" x2="543.8" y2="1096.2" stroke="#ff0808" stroke-width="1.5" stroke-dasharray="7.5 5.8"/><path d="M62.9 848.1 C63.9 849.0 66.8 851.4 68.7 853.2 C70.6 855.0 72.8 857.7 74.5 859.0 C76.2 860.3 77.2 861.3 78.9 861.2 C80.6 861.1 83.0 858.4 84.7 858.3 C86.4 858.2 87.4 858.9 89.1 860.5 C90.8 862.1 92.6 865.7 94.9 867.7 C97.2 869.8 100.2 872.7 102.9 872.8 C105.6 872.9 108.1 870.0 110.9 868.5 C113.7 867.0 116.7 864.5 119.6 864.1 C122.5 863.7 126.0 865.6 128.4 866.3 C130.8 867.0 131.8 868.3 134.0 868.5 C136.2 868.7 138.6 868.7 141.6 867.7 C144.6 866.7 148.9 863.3 151.8 862.6 C154.7 861.9 156.8 862.9 159.1 863.4 C161.3 863.9 162.9 865.5 165.3 865.5 C167.7 865.5 170.3 864.7 173.6 863.4 C176.9 862.1 181.9 859.6 185.3 857.5 C188.7 855.4 191.8 852.6 194.0 851.0 C196.2 849.4 197.7 848.6 198.4 848.1" fill="none" stroke="#000" stroke-width="2.7" stroke-linejoin="round" stroke-linecap="round"/><path d="M62.9 848.8 C63.9 849.6 66.8 852.1 68.7 853.9 C70.6 855.7 72.5 858.4 74.5 859.7 C76.5 861.0 78.0 860.8 80.4 861.9 C82.8 863.0 86.4 864.8 89.1 866.3 C91.8 867.8 94.1 869.5 96.4 870.6 C98.7 871.7 101.8 872.4 102.9 872.8" fill="none" stroke="#000" stroke-width="2.7" stroke-linejoin="round" stroke-linecap="round"/><path d="M62.9 868.5 C63.9 868.2 66.5 867.6 68.7 867.0 C70.9 866.4 73.8 864.4 76.0 864.8 C78.2 865.2 79.6 867.5 81.8 869.2 C84.0 870.9 86.7 873.2 89.1 875.0 C91.5 876.8 94.1 879.0 96.4 880.1 C98.7 881.2 100.5 881.1 102.9 881.5 C105.3 881.9 107.6 881.6 110.9 882.3 C114.2 883.0 119.3 885.9 122.5 885.9 C125.7 885.9 127.9 883.3 129.8 882.3 C131.7 881.3 131.6 881.6 134.0 880.1 C136.4 878.6 141.1 875.4 144.5 873.5 C147.9 871.6 151.2 869.8 154.7 868.5 C158.2 867.2 162.4 865.3 165.3 865.5 C168.2 865.7 170.1 867.9 172.2 869.9 C174.3 871.9 176.1 874.7 178.0 877.2 C179.9 879.8 181.6 882.7 183.8 885.2 C186.0 887.8 188.4 890.6 191.1 892.5 C193.8 894.4 196.5 896.0 199.8 896.8 C203.1 897.5 207.1 898.0 211.0 897.0 C214.9 896.0 219.4 892.7 223.0 891.0 C226.6 889.3 228.7 888.7 232.4 887.0 C236.1 885.3 240.6 882.5 245.0 881.0 C249.4 879.5 255.8 878.3 259.0 878.0 C262.2 877.7 261.7 877.8 264.4 879.0 C267.1 880.2 272.2 882.3 275.0 885.0 C277.8 887.7 278.3 893.5 281.0 895.0 C283.7 896.5 287.3 895.5 291.0 894.0 C294.7 892.5 301.0 887.3 303.0 886.0" fill="none" stroke="#000" stroke-width="2.7" stroke-linejoin="round" stroke-linecap="round"/><path d="M62.9 872.1 C63.9 871.7 66.8 870.6 68.7 869.9 C70.6 869.2 72.3 867.3 74.5 867.7 C76.7 868.1 79.4 870.4 81.8 872.1 C84.2 873.8 86.7 876.3 89.1 877.9 C91.5 879.5 94.1 880.9 96.4 881.5 C98.7 882.1 101.8 881.5 102.9 881.5" fill="none" stroke="#000" stroke-width="2.7" stroke-linejoin="round" stroke-linecap="round"/><path d="M62.9 896.8 C64.3 897.0 68.4 898.2 71.6 898.3 C74.8 898.4 78.4 898.4 81.8 897.5 C85.2 896.6 88.5 894.5 92.0 893.2 C95.5 891.9 99.8 890.0 102.9 889.5 C106.1 889.0 107.9 890.4 110.9 890.3 C113.9 890.2 117.9 888.7 121.1 888.8 C124.2 888.9 127.7 890.4 129.8 891.0 C132.0 891.6 131.6 891.9 134.0 892.5 C136.4 893.1 140.8 895.1 144.5 894.6 C148.2 894.1 152.7 891.1 156.2 889.5 C159.7 887.9 162.4 885.7 165.3 885.2 C168.2 884.7 171.2 886.6 173.6 886.6 C176.0 886.6 177.1 886.7 179.5 885.2 C181.9 883.8 185.5 880.2 188.2 877.9 C190.9 875.6 193.5 872.7 195.5 871.4 C197.5 870.1 198.1 871.3 200.3 869.9 C202.6 868.5 205.9 864.6 209.0 863.0 C212.1 861.4 215.1 860.5 219.0 860.0 C222.9 859.5 228.1 860.3 232.4 860.0 C236.7 859.7 241.2 857.5 245.0 858.0 C248.8 858.5 251.8 862.0 255.0 863.0 C258.2 864.0 261.1 863.8 264.4 864.0 C267.7 864.2 270.6 864.3 275.0 864.0 C279.4 863.7 286.3 862.0 291.0 862.0 C295.7 862.0 301.0 863.7 303.0 864.0" fill="none" stroke="#000" stroke-width="2.7" stroke-linejoin="round" stroke-linecap="round"/><path d="M62.9 898.0 C64.9 898.3 71.2 899.8 75.0 900.0 C78.8 900.2 82.7 900.0 86.0 899.0 C89.3 898.0 92.2 895.6 95.0 894.0 C97.8 892.4 101.6 890.2 102.9 889.5" fill="none" stroke="#000" stroke-width="2.7" stroke-linejoin="round" stroke-linecap="round"/><path d="M165.3 884.5 C167.4 883.9 174.2 882.4 178.0 880.8 C181.8 879.2 184.5 876.5 188.2 875.0 C191.9 873.5 196.8 873.3 200.3 872.1 C203.8 870.9 205.6 869.4 209.0 868.0 C212.4 866.6 217.1 864.5 221.0 864.0 C224.9 863.5 230.5 864.8 232.4 865.0" fill="none" stroke="#000" stroke-width="2.7" stroke-linejoin="round" stroke-linecap="round"/><path d="M62.9 899.0 C64.3 899.6 68.4 900.8 71.6 902.6 C74.8 904.4 78.4 907.5 81.8 909.9 C85.2 912.3 88.5 915.3 92.0 917.2 C95.5 919.1 99.0 921.0 102.9 921.5 C106.8 922.0 111.5 920.8 115.3 920.1 C119.1 919.4 122.4 918.4 125.5 917.2 C128.6 916.0 130.8 914.0 134.0 913.0 C137.2 912.0 140.8 911.3 144.5 911.4 C148.2 911.5 152.7 912.8 156.2 913.5 C159.7 914.2 162.6 913.9 165.3 915.7 C168.0 917.5 170.1 921.5 172.2 924.5 C174.3 927.5 175.8 930.5 178.0 933.7 C180.2 936.9 182.9 941.2 185.3 943.9 C187.7 946.6 190.1 948.4 192.5 949.7 C194.9 951.0 197.1 952.4 199.5 951.9 C201.9 951.4 204.4 949.0 207.0 947.0 C209.6 945.0 210.3 940.8 215.0 940.0 C219.7 939.2 229.0 941.2 235.0 942.0 C241.0 942.8 246.1 945.3 251.0 945.0 C255.9 944.7 259.7 940.2 264.4 940.0 C269.1 939.8 275.2 942.8 279.0 944.0 C282.8 945.2 284.3 944.2 287.0 947.0 C289.7 949.8 292.3 956.7 295.0 961.0 C297.7 965.3 301.7 971.0 303.0 973.0" fill="none" stroke="#000" stroke-width="2.7" stroke-linejoin="round" stroke-linecap="round"/><path d="M165.3 915.7 C166.5 914.0 170.1 908.4 172.2 905.5 C174.3 902.6 175.8 899.8 178.0 898.3 C180.2 896.8 182.6 897.0 185.3 896.8 C188.0 896.5 191.6 896.7 194.0 896.8 C196.4 896.9 196.7 897.4 199.5 897.5 C202.3 897.6 207.1 898.5 211.0 897.5 C214.9 896.5 219.4 893.2 223.0 891.5 C226.6 889.8 230.8 888.2 232.4 887.5" fill="none" stroke="#000" stroke-width="2.7" stroke-linejoin="round" stroke-linecap="round"/><path d="M199.4 898.0 C202.0 899.8 210.7 905.8 215.0 909.0 C219.3 912.2 222.1 915.2 225.0 917.0 C227.9 918.8 229.1 920.0 232.4 920.0 C235.7 920.0 239.7 917.8 245.0 917.0 C250.3 916.2 258.7 916.0 264.4 915.0 C270.1 914.0 274.6 911.2 279.0 911.0 C283.4 910.8 287.0 913.2 291.0 914.0 C295.0 914.8 301.0 915.7 303.0 916.0" fill="none" stroke="#000" stroke-width="2.7" stroke-linejoin="round" stroke-linecap="round"/><path d="M198.4 848.1 C198.8 848.2 199.2 847.5 201.0 849.0 C202.8 850.5 206.0 854.0 209.0 857.0 C212.0 860.0 215.1 863.7 219.0 867.0 C222.9 870.3 228.1 874.3 232.4 877.0 C236.7 879.7 241.2 882.5 245.0 883.0 C248.8 883.5 251.8 880.7 255.0 880.0 C258.2 879.3 262.8 879.2 264.4 879.0" fill="none" stroke="#000" stroke-width="2.7" stroke-linejoin="round" stroke-linecap="round"/><path d="M201.0 849.0 C202.0 850.0 204.7 852.3 207.0 855.0 C209.3 857.7 212.0 861.0 215.0 865.0 C218.0 869.0 222.1 875.5 225.0 879.0 C227.9 882.5 229.7 883.8 232.4 886.0 C235.1 888.2 237.9 891.5 241.0 892.0 C244.1 892.5 247.1 890.0 251.0 889.0 C254.9 888.0 259.7 887.7 264.4 886.0 C269.1 884.3 274.6 881.5 279.0 879.0 C283.4 876.5 287.0 873.3 291.0 871.0 C295.0 868.7 301.0 866.0 303.0 865.0" fill="none" stroke="#000" stroke-width="2.7" stroke-linejoin="round" stroke-linecap="round"/><path d="M232.4 873.0 C233.8 873.3 237.2 874.8 241.0 875.0 C244.8 875.2 251.1 874.2 255.0 874.0 C258.9 873.8 261.1 874.2 264.4 874.0 C267.7 873.8 270.6 874.2 275.0 873.0 C279.4 871.8 286.3 868.5 291.0 867.0 C295.7 865.5 301.0 864.5 303.0 864.0" fill="none" stroke="#000" stroke-width="2.7" stroke-linejoin="round" stroke-linecap="round"/><path d="M199.4 872.0 C201.0 871.3 205.4 869.3 209.0 868.0 C212.6 866.7 217.1 864.5 221.0 864.0 C224.9 863.5 230.5 864.8 232.4 865.0" fill="none" stroke="#000" stroke-width="2.7" stroke-linejoin="round" stroke-linecap="round"/><path d="M62.9 936.6 C64.3 936.7 68.7 937.0 71.6 937.4 C74.5 937.8 77.5 939.9 80.4 938.8 C83.3 937.7 86.4 933.2 89.1 930.8 C91.8 928.4 94.1 926.0 96.4 924.5 C98.7 923.0 101.8 922.0 102.9 921.5" fill="none" stroke="#000" stroke-width="2.7" stroke-linejoin="round" stroke-linecap="round"/><path d="M62.9 937.4 C64.3 937.6 68.4 937.5 71.6 938.8 C74.8 940.1 78.4 942.1 81.8 945.4 C85.2 948.7 88.5 954.9 92.0 958.5 C95.5 962.1 99.3 967.2 102.5 967.2 C105.7 967.2 107.8 961.4 110.9 958.5 C114.0 955.6 117.9 951.9 121.1 949.7 C124.2 947.5 127.7 946.1 129.8 945.4 C131.9 944.7 131.6 945.3 133.6 945.4 C135.6 945.5 138.6 944.4 141.6 946.1 C144.6 947.8 147.9 950.8 151.8 955.5 C155.8 960.2 161.7 973.8 165.3 974.5 C168.9 975.2 170.3 965.0 173.6 959.9 C176.9 954.8 182.2 947.5 185.3 943.9 C188.5 940.3 190.1 939.4 192.5 938.1 C194.9 936.8 195.8 936.0 199.5 936.0 C203.2 936.0 210.8 938.8 215.0 938.0 C219.2 937.2 221.7 933.5 225.0 931.0 C228.3 928.5 231.7 925.2 235.0 923.0 C238.3 920.8 240.1 919.3 245.0 918.0 C249.9 916.7 258.7 916.0 264.4 915.0 C270.1 914.0 276.6 912.5 279.0 912.0" fill="none" stroke="#000" stroke-width="2.7" stroke-linejoin="round" stroke-linecap="round"/><path d="M62.9 951.9 C64.3 951.5 68.7 950.9 71.6 949.7 C74.5 948.5 77.5 943.9 80.4 944.6 C83.3 945.3 86.2 950.8 89.1 954.1 C92.0 957.4 95.6 961.9 97.8 964.3 C100.0 966.7 101.7 967.9 102.5 968.6" fill="none" stroke="#000" stroke-width="2.7" stroke-linejoin="round" stroke-linecap="round"/><path d="M62.9 956.3 C64.3 956.7 68.4 957.2 71.6 958.5 C74.8 959.8 78.4 961.9 81.8 964.3 C85.2 966.7 89.3 970.8 92.0 973.0 C94.7 975.2 96.0 977.3 97.8 977.4 C99.5 977.5 99.6 974.0 102.5 973.7 C105.4 973.5 111.5 975.5 115.3 975.9 C119.1 976.3 122.5 975.9 125.5 975.9 C128.6 975.9 129.2 976.0 133.6 975.9 C138.0 975.8 146.5 975.4 151.8 975.2 C157.1 975.0 161.7 976.1 165.3 974.5 C168.9 972.9 170.3 968.1 173.6 965.7 C176.9 963.3 181.9 961.4 185.3 959.9 C188.7 958.4 191.6 957.6 194.0 957.0 C196.4 956.4 196.7 956.0 199.5 956.3 C202.3 956.6 207.4 957.2 211.0 959.0 C214.6 960.8 218.3 964.3 221.0 967.0 C223.7 969.7 225.1 975.0 227.0 975.0 C228.9 975.0 230.3 970.3 232.6 967.0 C234.9 963.7 237.3 958.0 241.0 955.0 C244.7 952.0 251.1 950.0 255.0 949.0 C258.9 948.0 260.4 948.0 264.4 949.0 C268.4 950.0 274.6 952.3 279.0 955.0 C283.4 957.7 287.0 962.0 291.0 965.0 C295.0 968.0 301.0 971.7 303.0 973.0" fill="none" stroke="#000" stroke-width="2.7" stroke-linejoin="round" stroke-linecap="round"/><path d="M62.9 1010.8 C64.8 1010.1 70.6 1009.9 74.5 1006.5 C78.4 1003.1 82.8 994.9 86.2 990.5 C89.6 986.1 92.5 983.5 94.9 980.3 C97.3 977.1 99.4 973.2 100.7 971.5 C102.0 969.8 102.2 970.3 102.5 970.1" fill="none" stroke="#000" stroke-width="2.7" stroke-linejoin="round" stroke-linecap="round"/><path d="M62.9 1011.5 C64.8 1010.9 70.1 1010.4 74.5 1007.9 C78.9 1005.4 85.4 999.7 89.1 996.3 C92.8 992.9 94.7 989.2 96.4 987.5 C98.1 985.8 98.3 986.2 99.3 986.1 C100.3 986.0 100.6 985.8 102.5 986.8 C104.4 987.8 107.8 989.6 110.9 991.9 C114.0 994.2 117.9 998.4 121.1 1000.6 C124.2 1002.8 127.7 1004.4 129.8 1005.0 C131.9 1005.6 131.2 1005.5 133.6 1004.3 C136.0 1003.1 140.7 1000.7 144.5 997.7 C148.3 994.7 152.7 989.9 156.2 986.1 C159.7 982.4 162.4 975.2 165.3 975.2 C168.2 975.2 170.8 982.4 173.6 986.1 C176.4 989.9 179.5 994.3 182.4 997.7 C185.3 1001.1 188.3 1004.3 191.1 1006.5 C193.9 1008.7 197.8 1010.2 199.1 1011.0" fill="none" stroke="#000" stroke-width="2.7" stroke-linejoin="round" stroke-linecap="round"/><path d="M62.9 1012.3 C64.8 1011.8 70.1 1011.6 74.5 1009.4 C78.9 1007.2 84.4 1003.0 89.1 999.2 C93.8 995.4 100.3 988.9 102.5 986.8" fill="none" stroke="#000" stroke-width="2.7" stroke-linejoin="round" stroke-linecap="round"/><path d="M199.4 935.0 C202.0 936.0 210.7 937.7 215.0 941.0 C219.3 944.3 222.1 950.5 225.0 955.0 C227.9 959.5 230.6 965.3 232.6 968.0 C234.6 970.7 234.6 972.8 237.0 971.0 C239.4 969.2 242.4 960.3 247.0 957.0 C251.6 953.7 259.1 951.0 264.4 951.0 C269.7 951.0 273.9 954.0 279.0 957.0 C284.1 960.0 291.0 966.3 295.0 969.0 C299.0 971.7 301.7 972.3 303.0 973.0" fill="none" stroke="#000" stroke-width="2.7" stroke-linejoin="round" stroke-linecap="round"/><path d="M199.4 1011.0 C201.3 1008.7 206.7 1002.0 211.0 997.0 C215.3 992.0 221.4 983.7 225.0 981.0 C228.6 978.3 229.9 979.3 232.6 981.0 C235.3 982.7 237.3 988.0 241.0 991.0 C244.7 994.0 251.1 997.7 255.0 999.0 C258.9 1000.3 260.4 999.3 264.4 999.0 C268.4 998.7 274.6 999.3 279.0 997.0 C283.4 994.7 287.0 988.7 291.0 985.0 C295.0 981.3 301.0 976.7 303.0 975.0" fill="none" stroke="#000" stroke-width="2.7" stroke-linejoin="round" stroke-linecap="round"/><path d="M199.4 1011.0 C201.3 1009.0 206.7 1003.3 211.0 999.0 C215.3 994.7 221.4 987.5 225.0 985.0 C228.6 982.5 229.9 982.7 232.6 984.0 C235.3 985.3 237.3 990.3 241.0 993.0 C244.7 995.7 251.1 998.5 255.0 1000.0 C258.9 1001.5 260.4 1002.2 264.4 1002.0 C268.4 1001.8 274.6 1001.5 279.0 999.0 C283.4 996.5 287.0 990.8 291.0 987.0 C295.0 983.2 301.0 977.8 303.0 976.0" fill="none" stroke="#000" stroke-width="2.7" stroke-linejoin="round" stroke-linecap="round"/><path d="M199.4 1011.0 C202.0 1010.7 209.1 1009.7 215.0 1009.0 C220.9 1008.3 229.0 1007.0 235.0 1007.0 C241.0 1007.0 246.1 1008.2 251.0 1009.0 C255.9 1009.8 259.7 1012.7 264.4 1012.0 C269.1 1011.3 274.6 1008.5 279.0 1005.0 C283.4 1001.5 287.0 995.7 291.0 991.0 C295.0 986.3 301.0 979.3 303.0 977.0" fill="none" stroke="#000" stroke-width="2.7" stroke-linejoin="round" stroke-linecap="round"/><path d="M63.2 1095.9 C64.8 1096.0 70.0 1095.0 73.1 1096.6 C76.2 1098.2 79.1 1102.5 81.8 1105.4 C84.5 1108.3 86.7 1111.8 89.1 1114.1 C91.5 1116.4 94.2 1118.2 96.4 1119.2 C98.6 1120.2 100.1 1119.8 102.5 1119.9 C104.9 1120.0 107.6 1120.1 110.9 1119.9 C114.2 1119.7 118.7 1118.7 122.5 1118.5 C126.3 1118.3 129.9 1118.6 133.6 1118.5 C137.3 1118.4 139.2 1117.4 144.5 1117.7 C149.8 1118.0 160.3 1120.8 165.2 1120.6 C170.0 1120.4 170.7 1118.6 173.6 1116.3 C176.5 1114.0 179.5 1109.7 182.4 1106.8 C185.3 1103.9 188.3 1100.7 191.1 1098.8 C193.9 1096.9 196.1 1095.1 199.4 1095.5 C202.7 1095.9 206.7 1098.4 211.0 1101.0 C215.3 1103.6 221.4 1108.5 225.0 1111.0 C228.6 1113.5 229.4 1114.3 232.4 1116.0 C235.4 1117.7 239.2 1121.2 243.0 1121.0 C246.8 1120.8 251.4 1116.3 255.0 1115.0 C258.6 1113.7 260.4 1112.7 264.4 1113.0 C268.4 1113.3 272.6 1115.7 279.0 1117.0 C285.4 1118.3 299.0 1120.3 303.0 1121.0" fill="none" stroke="#000" stroke-width="2.7" stroke-linejoin="round" stroke-linecap="round"/><path d="M63.2 1125.0 C65.1 1124.5 70.2 1122.9 74.5 1122.1 C78.8 1121.2 84.4 1120.3 89.1 1119.9 C93.8 1119.5 100.3 1119.9 102.5 1119.9" fill="none" stroke="#000" stroke-width="2.7" stroke-linejoin="round" stroke-linecap="round"/><path d="M165.2 1120.6 C167.8 1121.0 176.6 1122.1 180.9 1122.8 C185.2 1123.5 188.0 1124.7 191.1 1125.0 C194.2 1125.3 196.1 1125.2 199.4 1124.5 C202.7 1123.8 205.5 1121.9 211.0 1121.0 C216.5 1120.1 226.7 1119.5 232.4 1119.0 C238.1 1118.5 239.7 1118.7 245.0 1118.0 C250.3 1117.3 258.7 1115.0 264.4 1115.0 C270.1 1115.0 272.6 1117.2 279.0 1118.0 C285.4 1118.8 299.0 1119.7 303.0 1120.0" fill="none" stroke="#000" stroke-width="2.7" stroke-linejoin="round" stroke-linecap="round"/><path d="M63.2 1127.2 C65.1 1127.4 70.2 1127.9 74.5 1128.6 C78.8 1129.3 84.4 1130.7 89.1 1131.5 C93.8 1132.3 97.7 1133.5 102.5 1133.7 C107.3 1134.0 113.0 1132.9 118.2 1133.0 C123.4 1133.1 129.2 1134.5 133.6 1134.5 C138.0 1134.5 139.2 1133.5 144.5 1133.0 C149.8 1132.5 159.1 1132.0 165.2 1131.3 C171.3 1130.6 175.2 1129.2 180.9 1128.6 C186.6 1128.0 193.7 1127.4 199.4 1127.5 C205.1 1127.6 209.5 1128.6 215.0 1129.0 C220.5 1129.4 226.4 1129.5 232.4 1130.0 C238.4 1130.5 245.7 1131.5 251.0 1132.0 C256.3 1132.5 259.4 1133.0 264.4 1133.0 C269.4 1133.0 274.6 1132.5 281.0 1132.0 C287.4 1131.5 299.3 1130.3 303.0 1130.0" fill="none" stroke="#000" stroke-width="2.7" stroke-linejoin="round" stroke-linecap="round"/><path d="M63.2 1128.5 C65.1 1128.8 70.2 1129.3 74.5 1130.0 C78.8 1130.7 84.4 1131.8 89.1 1132.5 C93.8 1133.2 100.3 1133.8 102.5 1134.0" fill="none" stroke="#000" stroke-width="2.7" stroke-linejoin="round" stroke-linecap="round"/><path d="M63.2 1131.5 C65.1 1132.0 70.2 1133.3 74.5 1134.5 C78.8 1135.7 85.2 1137.8 89.1 1138.8 C93.0 1139.8 95.6 1140.0 97.8 1140.3 C100.0 1140.5 99.1 1140.5 102.5 1140.3 C105.9 1140.0 113.0 1139.0 118.2 1138.8 C123.4 1138.6 129.2 1139.2 133.6 1139.1 C138.0 1139.0 140.7 1138.9 144.5 1138.1 C148.3 1137.3 152.8 1135.6 156.2 1134.5 C159.6 1133.4 161.1 1132.0 165.2 1131.5 C169.3 1131.0 176.6 1131.4 180.9 1131.5 C185.2 1131.6 188.0 1132.5 191.1 1132.3 C194.2 1132.0 195.4 1129.7 199.4 1130.0 C203.4 1130.3 209.5 1133.2 215.0 1134.0 C220.5 1134.8 227.1 1134.7 232.4 1135.0 C237.7 1135.3 241.7 1135.7 247.0 1136.0 C252.3 1136.3 259.1 1136.5 264.4 1137.0 C269.7 1137.5 272.6 1140.0 279.0 1139.0 C285.4 1138.0 299.0 1132.3 303.0 1131.0" fill="none" stroke="#000" stroke-width="2.7" stroke-linejoin="round" stroke-linecap="round"/><path d="M199.4 1133.0 C202.0 1133.8 209.5 1136.8 215.0 1138.0 C220.5 1139.2 226.4 1140.0 232.4 1140.0 C238.4 1140.0 245.7 1138.8 251.0 1138.0 C256.3 1137.2 259.4 1135.5 264.4 1135.0 C269.4 1134.5 274.6 1135.5 281.0 1135.0 C287.4 1134.5 299.3 1132.5 303.0 1132.0" fill="none" stroke="#000" stroke-width="2.7" stroke-linejoin="round" stroke-linecap="round"/><path d="M63.2 1133.0 C65.1 1134.2 70.7 1137.9 74.5 1140.3 C78.3 1142.7 82.3 1145.1 86.2 1147.5 C90.1 1149.9 95.1 1153.3 97.8 1154.8 C100.5 1156.3 100.3 1156.3 102.5 1156.3 C104.7 1156.3 107.6 1155.5 110.9 1154.8 C114.2 1154.1 118.7 1152.5 122.5 1151.9 C126.3 1151.3 129.9 1151.0 133.6 1151.2 C137.3 1151.5 140.7 1152.6 144.5 1153.4 C148.3 1154.2 152.8 1155.6 156.2 1156.3 C159.6 1157.0 162.3 1157.6 165.2 1157.7 C168.1 1157.8 170.2 1157.1 173.6 1157.0 C176.9 1156.9 181.0 1157.1 185.3 1157.0 C189.6 1156.9 197.1 1156.4 199.4 1156.3" fill="none" stroke="#000" stroke-width="2.7" stroke-linejoin="round" stroke-linecap="round"/><path d="M63.2 1140.3 C65.1 1140.5 70.2 1141.7 74.5 1141.7 C78.8 1141.7 84.4 1140.4 89.1 1140.3 C93.8 1140.2 97.7 1140.8 102.5 1141.0 C107.3 1141.2 113.0 1141.1 118.2 1141.7 C123.4 1142.3 129.2 1143.9 133.6 1144.6 C138.0 1145.3 140.7 1144.9 144.5 1146.1 C148.3 1147.3 152.8 1150.1 156.2 1151.9 C159.6 1153.7 162.3 1157.2 165.2 1157.0 C168.1 1156.8 170.2 1152.6 173.6 1150.5 C176.9 1148.4 181.0 1145.9 185.3 1144.6 C189.6 1143.3 194.5 1143.1 199.4 1142.5 C204.3 1141.9 209.5 1140.9 215.0 1141.0 C220.5 1141.1 226.4 1142.7 232.4 1143.0 C238.4 1143.3 245.7 1142.7 251.0 1143.0 C256.3 1143.3 259.4 1144.3 264.4 1145.0 C269.4 1145.7 274.6 1145.3 281.0 1147.0 C287.4 1148.7 299.3 1153.7 303.0 1155.0" fill="none" stroke="#000" stroke-width="2.7" stroke-linejoin="round" stroke-linecap="round"/><path d="M63.2 1142.5 C65.1 1142.5 70.2 1141.9 74.5 1142.5 C78.8 1143.1 85.2 1146.2 89.1 1146.1 C93.0 1146.0 95.6 1142.5 97.8 1141.7 C100.0 1140.9 101.7 1141.1 102.5 1141.0" fill="none" stroke="#000" stroke-width="2.7" stroke-linejoin="round" stroke-linecap="round"/><path d="M63.2 1143.5 C65.1 1143.8 70.2 1143.9 74.5 1145.0 C78.8 1146.1 84.4 1148.3 89.1 1150.0 C93.8 1151.7 100.3 1154.2 102.5 1155.0" fill="none" stroke="#000" stroke-width="2.7" stroke-linejoin="round" stroke-linecap="round"/><path d="M63.2 1157.0 C65.1 1156.7 70.2 1154.8 74.5 1155.0 C78.8 1155.2 84.4 1157.5 89.1 1158.0 C93.8 1158.5 100.3 1158.0 102.5 1158.0" fill="none" stroke="#000" stroke-width="2.7" stroke-linejoin="round" stroke-linecap="round"/><path d="M63.2 1160.6 C65.1 1160.7 70.7 1160.8 74.5 1161.4 C78.3 1162.0 82.5 1164.0 86.2 1164.3 C89.9 1164.6 93.7 1163.6 96.4 1163.5 C99.1 1163.4 96.3 1163.5 102.5 1163.5 C108.7 1163.5 126.6 1163.5 133.6 1163.5 C140.6 1163.5 140.7 1164.0 144.5 1163.5 C148.3 1163.0 152.8 1161.6 156.2 1160.6 C159.6 1159.6 161.8 1157.1 165.2 1157.7 C168.6 1158.3 172.7 1163.5 176.5 1164.3 C180.3 1165.1 184.4 1163.3 188.2 1162.8 C192.0 1162.2 194.9 1161.3 199.4 1161.0 C203.9 1160.7 209.5 1161.2 215.0 1161.0 C220.5 1160.8 226.4 1160.0 232.4 1160.0 C238.4 1160.0 245.7 1161.0 251.0 1161.0 C256.3 1161.0 259.4 1160.3 264.4 1160.0 C269.4 1159.7 274.6 1159.2 281.0 1159.0 C287.4 1158.8 299.3 1159.0 303.0 1159.0" fill="none" stroke="#000" stroke-width="2.7" stroke-linejoin="round" stroke-linecap="round"/><path d="M63.2 1160.6 C65.1 1160.6 70.7 1160.6 74.5 1160.6 C78.3 1160.6 82.5 1160.4 86.2 1160.6 C89.9 1160.8 93.7 1161.5 96.4 1162.0 C99.1 1162.5 101.5 1163.2 102.5 1163.5" fill="none" stroke="#000" stroke-width="2.7" stroke-linejoin="round" stroke-linecap="round"/><path d="M165.2 1157.7 C167.1 1156.9 173.2 1154.6 176.5 1153.0 C179.8 1151.4 182.4 1149.7 185.3 1148.0 C188.2 1146.3 191.7 1143.7 194.0 1143.0 C196.3 1142.3 195.9 1143.7 199.4 1144.0 C202.9 1144.3 209.5 1144.5 215.0 1145.0 C220.5 1145.5 226.4 1146.3 232.4 1147.0 C238.4 1147.7 245.7 1148.7 251.0 1149.0 C256.3 1149.3 259.4 1149.0 264.4 1149.0 C269.4 1149.0 274.6 1147.8 281.0 1149.0 C287.4 1150.2 299.3 1154.8 303.0 1156.0" fill="none" stroke="#000" stroke-width="2.7" stroke-linejoin="round" stroke-linecap="round"/><path d="M199.4 1154.0 C202.0 1154.0 209.5 1154.2 215.0 1154.0 C220.5 1153.8 226.4 1153.5 232.4 1153.0 C238.4 1152.5 245.7 1151.3 251.0 1151.0 C256.3 1150.7 259.4 1150.7 264.4 1151.0 C269.4 1151.3 274.6 1152.0 281.0 1153.0 C287.4 1154.0 299.3 1156.3 303.0 1157.0" fill="none" stroke="#000" stroke-width="2.7" stroke-linejoin="round" stroke-linecap="round"/><path d="M199.4 1162.0 C202.0 1162.5 209.5 1163.5 215.0 1165.0 C220.5 1166.5 226.4 1170.2 232.4 1171.0 C238.4 1171.8 245.7 1170.2 251.0 1170.0 C256.3 1169.8 259.4 1170.8 264.4 1170.0 C269.4 1169.2 274.6 1166.7 281.0 1165.0 C287.4 1163.3 299.3 1160.8 303.0 1160.0" fill="none" stroke="#000" stroke-width="2.7" stroke-linejoin="round" stroke-linecap="round"/><path d="M63.2 1179.5 C65.1 1179.0 70.2 1177.7 74.5 1176.6 C78.8 1175.5 85.2 1173.3 89.1 1173.0 C93.0 1172.7 95.6 1174.1 97.8 1174.5 C100.0 1174.9 99.1 1174.5 102.5 1175.2 C105.9 1175.9 113.0 1177.9 118.2 1178.8 C123.4 1179.7 129.2 1180.0 133.6 1180.5 C138.0 1181.0 140.7 1180.9 144.5 1181.7 C148.3 1182.5 152.8 1184.7 156.2 1185.4 C159.6 1186.1 162.3 1186.1 165.2 1186.1 C168.1 1186.1 170.2 1184.8 173.6 1185.4 C176.9 1186.0 181.0 1188.4 185.3 1189.7 C189.6 1191.0 194.5 1193.0 199.4 1193.4 C204.3 1193.8 209.5 1193.1 215.0 1192.0 C220.5 1190.9 226.4 1187.5 232.4 1187.0 C238.4 1186.5 245.7 1188.7 251.0 1189.0 C256.3 1189.3 259.4 1188.3 264.4 1189.0 C269.4 1189.7 274.6 1192.2 281.0 1193.0 C287.4 1193.8 299.3 1193.8 303.0 1194.0" fill="none" stroke="#000" stroke-width="2.7" stroke-linejoin="round" stroke-linecap="round"/><path d="M63.2 1180.3 C65.1 1179.9 71.2 1178.2 74.5 1178.1 C77.8 1178.0 80.6 1178.9 83.3 1179.5 C86.0 1180.1 88.1 1181.9 90.5 1181.7 C92.9 1181.5 95.8 1179.2 97.8 1178.1 C99.8 1177.0 101.7 1175.7 102.5 1175.2" fill="none" stroke="#000" stroke-width="2.7" stroke-linejoin="round" stroke-linecap="round"/><path d="M63.2 1192.6 C65.1 1192.6 70.2 1193.6 74.5 1192.6 C78.8 1191.6 85.2 1187.4 89.1 1186.8 C93.0 1186.2 95.6 1188.3 97.8 1189.0 C100.0 1189.7 99.1 1190.7 102.5 1191.2 C105.9 1191.7 113.0 1191.7 118.2 1191.9 C123.4 1192.1 129.2 1192.6 133.6 1192.6 C138.0 1192.6 140.7 1191.8 144.5 1191.9 C148.3 1192.0 152.8 1192.8 156.2 1193.4 C159.6 1194.0 162.3 1196.8 165.2 1195.5 C168.1 1194.2 170.2 1187.8 173.6 1185.4 C176.9 1183.0 181.0 1182.0 185.3 1181.0 C189.6 1180.0 194.5 1180.3 199.4 1179.5 C204.3 1178.7 209.5 1176.1 215.0 1176.0 C220.5 1175.9 226.4 1177.8 232.4 1179.0 C238.4 1180.2 245.7 1182.7 251.0 1183.0 C256.3 1183.3 259.4 1181.0 264.4 1181.0 C269.4 1181.0 274.6 1182.3 281.0 1183.0 C287.4 1183.7 299.3 1184.7 303.0 1185.0" fill="none" stroke="#000" stroke-width="2.7" stroke-linejoin="round" stroke-linecap="round"/><path d="M63.2 1197.0 C65.1 1196.9 70.2 1196.9 74.5 1196.3 C78.8 1195.7 84.4 1194.2 89.1 1193.4 C93.8 1192.6 100.3 1191.6 102.5 1191.2" fill="none" stroke="#000" stroke-width="2.7" stroke-linejoin="round" stroke-linecap="round"/><path d="M63.2 1201.4 C65.1 1201.2 70.2 1200.6 74.5 1199.9 C78.8 1199.2 84.4 1198.3 89.1 1197.0 C93.8 1195.7 100.3 1192.8 102.5 1191.9" fill="none" stroke="#000" stroke-width="2.7" stroke-linejoin="round" stroke-linecap="round"/><path d="M63.2 1212.3 C65.1 1211.9 70.2 1211.2 74.5 1210.1 C78.8 1209.0 84.4 1206.7 89.1 1205.7 C93.8 1204.7 97.7 1204.5 102.5 1204.3 C107.3 1204.1 113.0 1204.3 118.2 1204.3 C123.4 1204.3 129.2 1204.5 133.6 1204.3 C138.0 1204.0 140.7 1203.5 144.5 1202.8 C148.3 1202.1 152.8 1201.1 156.2 1199.9 C159.6 1198.7 162.3 1195.2 165.2 1195.5 C168.1 1195.8 170.2 1199.2 173.6 1201.4 C176.9 1203.6 181.0 1206.9 185.3 1208.6 C189.6 1210.3 194.5 1211.4 199.4 1211.5 C204.3 1211.6 209.5 1210.4 215.0 1209.0 C220.5 1207.6 226.4 1204.3 232.4 1203.0 C238.4 1201.7 245.7 1201.0 251.0 1201.0 C256.3 1201.0 259.4 1202.3 264.4 1203.0 C269.4 1203.7 274.6 1205.8 281.0 1205.0 C287.4 1204.2 299.3 1199.2 303.0 1198.0" fill="none" stroke="#000" stroke-width="2.7" stroke-linejoin="round" stroke-linecap="round"/><path d="M165.2 1195.5 C167.1 1196.0 172.7 1197.8 176.5 1198.5 C180.3 1199.2 184.4 1199.7 188.2 1199.9 C192.0 1200.1 194.9 1199.7 199.4 1199.5 C203.9 1199.3 209.5 1198.9 215.0 1199.0 C220.5 1199.1 226.4 1200.0 232.4 1200.0 C238.4 1200.0 245.7 1199.0 251.0 1199.0 C256.3 1199.0 259.4 1200.2 264.4 1200.0 C269.4 1199.8 274.6 1198.8 281.0 1198.0 C287.4 1197.2 299.3 1195.5 303.0 1195.0" fill="none" stroke="#000" stroke-width="2.7" stroke-linejoin="round" stroke-linecap="round"/><path d="M199.4 1173.0 C202.0 1173.7 209.5 1176.3 215.0 1177.0 C220.5 1177.7 226.4 1177.7 232.4 1177.0 C238.4 1176.3 245.7 1173.3 251.0 1173.0 C256.3 1172.7 259.4 1174.0 264.4 1175.0 C269.4 1176.0 274.6 1177.3 281.0 1179.0 C287.4 1180.7 299.3 1184.0 303.0 1185.0" fill="none" stroke="#000" stroke-width="2.7" stroke-linejoin="round" stroke-linecap="round"/><path d="M199.4 1185.0 C202.0 1184.7 209.5 1182.7 215.0 1183.0 C220.5 1183.3 226.4 1186.0 232.4 1187.0 C238.4 1188.0 245.7 1188.7 251.0 1189.0 C256.3 1189.3 259.4 1188.3 264.4 1189.0 C269.4 1189.7 274.6 1192.2 281.0 1193.0 C287.4 1193.8 299.3 1193.8 303.0 1194.0" fill="none" stroke="#000" stroke-width="2.7" stroke-linejoin="round" stroke-linecap="round"/><path d="M199.4 1199.0 C202.0 1199.0 209.5 1198.8 215.0 1199.0 C220.5 1199.2 226.4 1200.0 232.4 1200.0 C238.4 1200.0 245.7 1199.0 251.0 1199.0 C256.3 1199.0 259.4 1200.2 264.4 1200.0 C269.4 1199.8 274.6 1198.8 281.0 1198.0 C287.4 1197.2 299.3 1195.5 303.0 1195.0" fill="none" stroke="#000" stroke-width="2.7" stroke-linejoin="round" stroke-linecap="round"/><path d="M199.4 1200.0 C202.0 1200.5 209.5 1202.2 215.0 1203.0 C220.5 1203.8 226.4 1204.7 232.4 1205.0 C238.4 1205.3 245.7 1205.3 251.0 1205.0 C256.3 1204.7 259.4 1204.0 264.4 1203.0 C269.4 1202.0 274.6 1200.3 281.0 1199.0 C287.4 1197.7 299.3 1195.7 303.0 1195.0" fill="none" stroke="#000" stroke-width="2.7" stroke-linejoin="round" stroke-linecap="round"/><path d="M199.4 1213.0 C202.0 1212.7 209.5 1212.0 215.0 1211.0 C220.5 1210.0 226.4 1207.7 232.4 1207.0 C238.4 1206.3 245.7 1207.0 251.0 1207.0 C256.3 1207.0 259.4 1207.7 264.4 1207.0 C269.4 1206.3 274.6 1204.3 281.0 1203.0 C287.4 1201.7 299.3 1199.7 303.0 1199.0" fill="none" stroke="#000" stroke-width="2.7" stroke-linejoin="round" stroke-linecap="round"/><path d="M304.8 848.5 C304.9 849.0 304.6 850.0 305.5 851.5 C306.4 853.0 308.6 855.6 310.5 857.4 C312.4 859.2 315.9 861.0 317.1 862.5 C318.3 864.0 316.7 865.0 317.8 866.1 C318.9 867.2 324.1 867.7 323.6 869.0 C323.1 870.3 315.6 872.3 314.9 874.1 C314.2 875.9 319.1 878.0 319.3 879.9 C319.6 881.8 316.4 883.8 316.4 885.7 C316.4 887.6 320.0 889.8 319.3 891.5 C318.6 893.2 313.9 894.4 312.0 895.9 C310.1 897.4 308.5 898.5 307.6 900.3 C306.8 902.1 306.4 904.9 306.9 906.8 C307.4 908.7 308.8 910.3 310.5 911.9 C312.2 913.5 316.6 914.8 317.1 916.3 C317.6 917.8 314.8 919.1 313.5 920.6 C312.2 922.1 310.2 923.4 309.1 925.0 C308.0 926.6 307.3 928.7 307.0 930.0 C306.7 931.3 307.0 932.1 307.5 933.0 C308.0 933.9 308.2 934.6 309.8 935.6 C311.4 936.6 314.9 937.8 316.9 939.2 C318.9 940.6 321.6 942.3 321.6 943.9 C321.6 945.5 318.1 947.0 316.9 948.6 C315.7 950.2 314.5 951.8 314.5 953.4 C314.5 955.0 315.7 956.1 316.9 958.1 C318.1 960.1 322.0 963.2 321.6 965.2 C321.2 967.2 316.5 968.3 314.5 969.9 C312.5 971.5 310.2 972.8 309.8 974.6 C309.4 976.4 311.0 979.0 312.2 980.6 C313.4 982.2 316.9 982.9 316.9 984.1 C316.9 985.3 313.0 986.2 312.2 987.6 C311.4 989.0 311.2 990.6 312.2 992.4 C313.2 994.2 317.3 996.5 318.1 998.3 C318.9 1000.1 318.3 1001.2 316.9 1003.0 C315.5 1004.8 311.8 1007.1 309.8 1008.9 C307.8 1010.7 305.9 1012.9 305.1 1013.7" fill="none" stroke="#05f005" stroke-width="2.6" stroke-linejoin="round"/><path d="M305.1 1098.6 C305.9 1099.6 307.1 1102.3 309.8 1104.5 C312.6 1106.7 315.7 1109.8 321.6 1111.6 C327.5 1113.4 337.0 1114.0 345.3 1115.2 C353.6 1116.4 371.3 1117.7 371.3 1118.7 C371.3 1119.7 354.0 1120.3 345.3 1121.1 C336.6 1121.9 324.2 1122.8 319.3 1123.5 C314.4 1124.2 313.3 1124.6 315.7 1125.4 C318.1 1126.2 322.7 1127.3 333.5 1128.2 C344.3 1129.1 366.3 1129.8 380.7 1130.6 C395.1 1131.4 411.1 1132.3 420.0 1133.0 C428.9 1133.7 434.4 1134.2 434.4 1135.0 C434.4 1135.8 424.6 1136.5 420.0 1137.5 C415.4 1138.5 408.9 1140.0 406.7 1141.2 C404.5 1142.4 409.8 1143.7 406.7 1144.7 C403.6 1145.7 393.3 1146.3 387.8 1147.1 C382.3 1147.9 376.4 1148.3 373.7 1149.5 C370.9 1150.7 374.1 1152.6 371.3 1154.2 C368.5 1155.8 362.2 1157.3 357.1 1158.9 C352.0 1160.5 343.6 1162.1 340.6 1163.7 C337.7 1165.3 338.6 1166.8 339.4 1168.4 C340.2 1170.0 344.3 1171.1 345.3 1173.1 C346.3 1175.1 345.7 1178.2 345.3 1180.2 C344.9 1182.2 343.7 1183.3 342.9 1184.9 C342.1 1186.5 342.6 1188.5 340.6 1189.7 C338.6 1190.9 331.9 1191.0 331.1 1192.0 C330.3 1193.0 332.2 1194.0 335.8 1195.6 C339.4 1197.2 348.4 1200.1 352.4 1201.5 C356.3 1202.9 360.7 1203.0 359.5 1203.8 C358.3 1204.6 351.6 1205.4 345.3 1206.2 C339.0 1207.0 327.9 1207.8 321.6 1208.6 C315.3 1209.4 310.2 1210.1 307.5 1210.9 C304.8 1211.7 305.5 1212.9 305.1 1213.3" fill="none" stroke="#05f005" stroke-width="2.6" stroke-linejoin="round"/><path d="M304.4 900.0 C304.5 901.8 304.8 907.5 304.9 910.5 C305.0 913.5 305.3 914.1 305.3 917.7 C305.3 921.3 304.8 929.9 304.7 932.3" fill="none" stroke="#ff0808" stroke-width="2.2" stroke-linejoin="round"/><path d="M305.1 930.9 C306.3 931.7 309.1 933.8 312.2 935.6 C315.3 937.4 321.6 940.1 324.0 941.5 C326.4 942.9 327.2 942.7 326.4 943.9 C325.6 945.1 321.3 947.0 319.3 948.6 C317.3 950.2 314.9 951.8 314.5 953.4 C314.1 955.0 315.3 956.5 316.9 958.1 C318.5 959.7 322.4 961.4 324.0 962.8 C325.6 964.2 327.6 965.0 326.4 966.4 C325.2 967.8 319.3 969.7 316.9 971.1 C314.5 972.5 312.2 973.2 312.2 974.6 C312.2 976.0 314.9 978.0 316.9 979.4 C318.9 980.8 323.6 981.5 324.0 982.9 C324.4 984.3 320.9 986.0 319.3 987.6 C317.7 989.2 314.1 990.8 314.5 992.4 C314.9 994.0 319.2 995.5 321.6 997.1 C324.0 998.7 328.7 1000.2 328.7 1001.8 C328.7 1003.4 324.4 1005.0 321.6 1006.6 C318.9 1008.2 314.8 1010.1 312.2 1011.3 C309.6 1012.5 307.3 1013.3 306.3 1013.7" fill="none" stroke="#ff0808" stroke-width="2.2" stroke-linejoin="round"/><path d="M305.1 1098.6 C305.9 1100.0 308.2 1104.3 309.8 1106.9 C311.4 1109.5 312.9 1112.0 314.5 1114.0 C316.1 1116.0 319.7 1117.5 319.3 1118.7 C318.9 1119.9 314.4 1120.1 312.2 1121.1 C310.0 1122.1 307.3 1122.2 306.3 1124.6 C305.3 1127.0 306.3 1130.8 306.3 1135.3 C306.3 1139.8 306.1 1147.9 306.3 1151.8 C306.5 1155.7 307.1 1156.1 307.5 1158.9 C307.9 1161.7 308.2 1165.2 308.6 1168.4 C309.0 1171.6 309.2 1174.7 309.8 1177.8 C310.4 1180.9 312.0 1184.5 312.2 1187.3 C312.4 1190.1 310.6 1192.0 311.0 1194.4 C311.4 1196.8 313.7 1199.7 314.5 1201.5 C315.3 1203.3 316.5 1203.8 315.7 1205.0 C314.9 1206.2 311.4 1207.6 309.8 1208.6 C308.2 1209.6 307.1 1210.1 306.3 1210.9 C305.5 1211.7 305.3 1212.9 305.1 1213.3" fill="none" stroke="#ff0808" stroke-width="2.2" stroke-linejoin="round"/><path d="M304.4 1219.0 L304.4 930.0" fill="none" stroke="#0808ff" stroke-width="2.2" stroke-linejoin="round"/><path d="M305.0 934.0 C305.1 933.7 305.2 934.0 305.5 932.3 C305.8 930.5 305.6 926.0 306.9 923.5 C308.2 921.0 313.4 919.4 313.5 917.0 C313.6 914.6 308.8 911.3 307.6 909.0 C306.4 906.7 306.5 906.0 306.2 903.2 C305.9 900.4 305.7 895.9 305.8 892.3 C305.9 888.7 306.8 884.4 306.9 881.4 C307.0 878.4 306.2 876.5 306.2 874.1 C306.2 871.7 307.0 869.8 306.9 866.8 C306.8 863.8 305.9 859.0 305.5 855.9 C305.1 852.8 304.8 849.2 304.7 847.9" fill="none" stroke="#0808ff" stroke-width="2.2" stroke-linejoin="round"/><path d="M305.1 848.5 C305.1 848.8 302.4 849.2 305.1 850.1 C307.9 851.0 312.9 852.2 321.6 853.6 C330.3 855.0 348.0 857.0 357.1 858.4 C366.2 859.8 372.1 860.9 376.0 861.9 C379.9 862.9 376.4 863.5 380.7 864.3 C385.0 865.1 395.9 865.7 402.0 866.6 C408.1 867.5 417.8 868.7 417.4 869.5 C417.0 870.3 406.2 870.7 399.7 871.4 C393.2 872.1 381.6 872.9 378.4 873.7 C375.2 874.5 377.9 875.3 380.7 876.1 C383.4 876.9 394.1 877.5 394.9 878.5 C395.7 879.5 386.7 880.8 385.5 882.0 C384.3 883.2 385.8 884.4 387.8 885.6 C389.8 886.8 395.3 887.9 397.3 889.1 C399.3 890.3 402.5 891.6 399.7 892.6 C396.9 893.6 389.8 893.6 380.7 895.0 C371.6 896.4 354.8 899.3 345.3 900.9 C335.9 902.5 328.3 903.5 324.0 904.5 C319.7 905.5 319.3 906.0 319.3 906.8 C319.3 907.6 317.7 908.0 324.0 909.2 C330.3 910.4 348.4 912.5 357.1 913.9 C365.8 915.3 376.0 916.5 376.0 917.5 C376.0 918.5 364.2 919.0 357.1 919.8 C350.0 920.6 339.0 921.4 333.5 922.2 C328.0 923.0 325.2 923.9 324.0 924.6 C322.8 925.3 326.8 925.9 326.4 926.5 C326.0 927.1 322.8 927.6 321.6 928.5 C320.4 929.4 317.3 930.7 319.3 932.1 C321.3 933.5 326.0 935.4 333.5 936.8 C341.0 938.2 355.9 939.3 364.2 940.4 C372.5 941.5 383.1 942.4 383.1 943.4 C383.1 944.4 368.1 945.4 364.2 946.3 C360.3 947.2 359.1 948.0 359.5 948.6 C359.9 949.2 369.0 949.0 366.6 949.8 C364.2 950.6 350.0 952.0 345.3 953.4 C340.6 954.8 339.0 956.7 338.2 958.1 C337.4 959.5 337.5 960.6 340.6 961.6 C343.8 962.6 351.2 963.1 357.1 964.0 C363.0 964.9 376.0 966.3 376.0 967.1 C376.0 967.9 364.2 968.0 357.1 968.7 C350.0 969.4 339.4 970.3 333.5 971.1 C327.6 971.9 323.8 972.7 321.6 973.5 C319.4 974.3 318.5 974.8 320.5 975.8 C322.5 976.8 327.4 978.4 333.5 979.4 C339.6 980.4 350.4 981.1 357.1 981.7 C363.8 982.3 373.7 982.3 373.7 982.9 C373.7 983.5 363.8 984.5 357.1 985.3 C350.4 986.1 337.6 986.6 333.5 987.6 C329.4 988.6 330.3 990.0 332.3 991.2 C334.3 992.4 339.2 993.5 345.3 994.7 C351.4 995.9 361.8 997.2 368.9 998.3 C376.0 999.4 387.8 1000.1 387.8 1001.1 C387.8 1002.1 377.9 1002.9 368.9 1004.2 C359.8 1005.5 342.9 1007.5 333.5 1008.9 C324.1 1010.3 316.7 1011.5 312.2 1012.5 C307.7 1013.5 307.5 1014.0 306.3 1014.8 C305.1 1015.6 305.3 1016.8 305.1 1017.2" fill="none" stroke="#000" stroke-width="2.6" stroke-linejoin="round"/><path d="M305.1 1096.0 C305.1 1096.2 304.3 1096.5 305.1 1097.5 C305.9 1098.5 308.2 1101.0 309.8 1102.2 C311.4 1103.4 314.1 1103.7 314.5 1104.5 C314.9 1105.3 311.8 1106.1 312.2 1106.9 C312.6 1107.7 311.4 1108.3 316.9 1109.3 C322.4 1110.3 332.7 1111.6 345.3 1112.8 C357.9 1114.0 378.5 1115.5 392.6 1116.4 C406.7 1117.3 429.8 1117.7 429.8 1118.4 C429.8 1119.1 406.7 1119.7 392.6 1120.5 C378.5 1121.3 357.1 1122.6 345.3 1123.5 C333.5 1124.4 323.6 1125.3 321.6 1126.0 C319.6 1126.7 323.6 1126.8 333.5 1127.5 C343.4 1128.2 362.9 1129.2 380.7 1130.0 C398.4 1130.8 421.8 1131.8 440.0 1132.5 C458.2 1133.2 476.9 1133.9 490.0 1134.5 C503.1 1135.1 520.2 1134.7 518.5 1135.9 C516.8 1137.1 485.5 1140.0 479.8 1141.8 C474.1 1143.5 492.0 1145.3 484.4 1146.4 C476.8 1147.5 444.2 1147.5 434.4 1148.6 C424.5 1149.7 430.6 1151.3 425.3 1153.2 C420.0 1155.1 410.1 1158.1 402.5 1160.0 C394.9 1161.9 384.3 1162.6 379.8 1164.5 C375.3 1166.4 373.0 1169.5 375.3 1171.4 C377.6 1173.3 389.7 1174.0 393.5 1175.9 C397.3 1177.8 400.3 1180.4 398.0 1182.7 C395.7 1185.0 385.1 1187.8 379.8 1189.5 C374.5 1191.2 364.7 1191.5 366.2 1192.7 C367.7 1193.9 377.5 1194.5 388.9 1196.4 C400.3 1198.3 434.4 1202.2 434.4 1204.1 C434.4 1206.0 407.8 1206.3 388.9 1207.7 C369.9 1209.1 334.3 1210.8 320.7 1212.3 C307.1 1213.8 309.7 1215.8 307.1 1216.8 C304.5 1217.8 305.4 1218.2 305.1 1218.5" fill="none" stroke="#000" stroke-width="2.6" stroke-linejoin="round"/><line x1="62.9" y1="1220.5" x2="73.4" y2="1220.5" stroke="#000" stroke-width="2"/><text transform="translate(50.4 1225.8) scale(1.040 1)" font-size="15.5" text-anchor="end">−4</text><line x1="62.9" y1="1158.2" x2="73.4" y2="1158.2" stroke="#000" stroke-width="2"/><text transform="translate(50.4 1163.5) scale(1.040 1)" font-size="15.5" text-anchor="end">−2</text><line x1="62.9" y1="1096.0" x2="73.4" y2="1096.0" stroke="#000" stroke-width="2"/><text transform="translate(50.4 1101.3) scale(1.040 1)" font-size="15.5" text-anchor="end">0</text><line x1="62.9" y1="1033.7" x2="73.4" y2="1033.7" stroke="#000" stroke-width="2"/><text transform="translate(50.4 1039.0) scale(1.040 1)" font-size="15.5" text-anchor="end">2</text><line x1="62.9" y1="971.4" x2="73.4" y2="971.4" stroke="#000" stroke-width="2"/><text transform="translate(50.4 976.7) scale(1.040 1)" font-size="15.5" text-anchor="end">4</text><line x1="62.9" y1="909.2" x2="73.4" y2="909.2" stroke="#000" stroke-width="2"/><text transform="translate(50.4 914.5) scale(1.040 1)" font-size="15.5" text-anchor="end">6</text><line x1="62.9" y1="846.9" x2="73.4" y2="846.9" stroke="#000" stroke-width="2"/><text transform="translate(50.4 852.2) scale(1.040 1)" font-size="15.5" text-anchor="end">8</text><rect x="62.9" y="846.9" width="481.9" height="373.6" fill="none" stroke="#000" stroke-width="2.4"/><line x1="303.2" y1="846.9" x2="303.2" y2="1220.5" stroke="#000" stroke-width="2.2"/><text transform="translate(8.4 853.5) scale(1.080 1)" font-size="20">(c)</text><text x="0" y="0" font-size="17" text-anchor="middle" transform="translate(30.9 1033.5) scale(0.93 1) rotate(-90)">Energy(eV)</text><text transform="translate(63.9 1239.7) scale(1.080 1)" font-size="14" text-anchor="middle">Γ</text><text transform="translate(102.8 1239.7) scale(1.080 1)" font-size="14" text-anchor="middle">L</text><text transform="translate(136.7 1239.7) scale(1.080 1)" font-size="14" text-anchor="middle">B<tspan font-size="11.5" dy="4">1</tspan><tspan dy="-4">|B</tspan></text><text transform="translate(164.6 1239.7) scale(1.080 1)" font-size="14" text-anchor="middle">Z</text><text transform="translate(200.0 1239.7) scale(1.080 1)" font-size="14" text-anchor="middle">Γ</text><text transform="translate(234.8 1239.7) scale(1.080 1)" font-size="14" text-anchor="middle">X|Q</text><text transform="translate(266.7 1239.7) scale(1.080 1)" font-size="14" text-anchor="middle">F</text><text transform="translate(304.1 1239.7) scale(1.080 1)" font-size="14" text-anchor="middle">P<tspan font-size="11.5" dy="4">1</tspan></text><text transform="translate(68.2 1081.9) scale(1.080 1)" font-size="16" fill="#ff0808">E<tspan font-size="13" dy="5.5">f</tspan></text><line x1="453.6" y1="1012.3" x2="480.9" y2="1012.3" stroke="#000" stroke-width="2.4"/><text transform="translate(484.6 1017.6) scale(1.080 1)" font-size="16">TDOS</text><line x1="453.6" y1="1032.9" x2="480.9" y2="1032.9" stroke="#ff0808" stroke-width="2.4"/><text transform="translate(484.6 1038.2) scale(1.080 1)" font-size="16">Ge</text><line x1="453.6" y1="1053.5" x2="480.9" y2="1053.5" stroke="#05f005" stroke-width="2.4"/><text transform="translate(484.6 1058.8) scale(1.080 1)" font-size="16">I</text><line x1="453.6" y1="1074.1" x2="480.9" y2="1074.1" stroke="#0808ff" stroke-width="2.4"/><text transform="translate(484.6 1079.4) scale(1.080 1)" font-size="16">Na</text><circle cx="199.2" cy="1095.6" r="3.6" fill="#0a0aff"/><text transform="translate(167.0 1085.0) scale(1.000 1)" font-size="13.5">VBM</text><circle cx="199.1" cy="1011.3" r="3.6" fill="#0a0aff"/><text transform="translate(167.0 1027.0) scale(1.000 1)" font-size="13.5">CBM</text></g>
</svg></body></html>
